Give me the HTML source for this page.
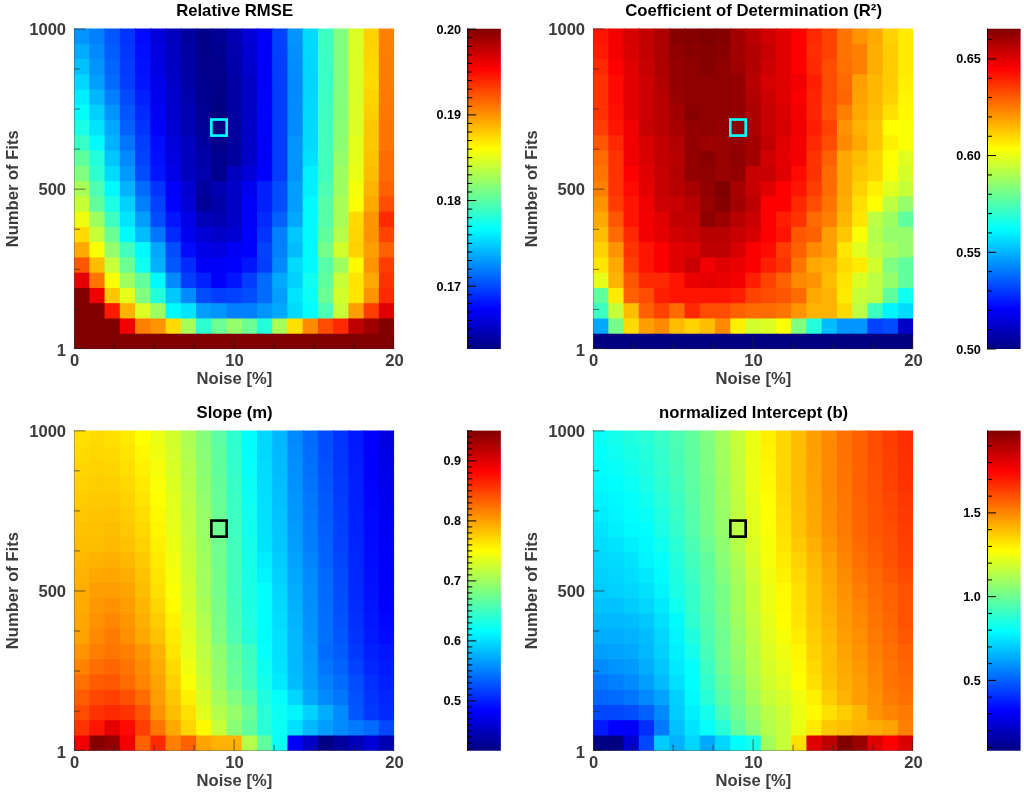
<!DOCTYPE html>
<html><head><meta charset="utf-8"><title>Figure</title>
<style>
html,body{margin:0;padding:0;background:#fff;}
body{width:1024px;height:792px;overflow:hidden;}
svg{display:block}
text{font-family:"Liberation Sans",Arial,sans-serif;font-weight:bold;}
.t{font-size:16.7px;fill:#000}
.a{font-size:16.6px;fill:#3c3c3c}
.c{font-size:12.65px;fill:#000}
</style></head><body>
<svg width="1024" height="792" viewBox="0 0 1024 792">
<defs><linearGradient id="jet" x1="0" y1="1" x2="0" y2="0">
<stop offset="0" stop-color="#000080"/><stop offset="0.125" stop-color="#0000ff"/><stop offset="0.375" stop-color="#00ffff"/><stop offset="0.625" stop-color="#ffff00"/><stop offset="0.875" stop-color="#ff0000"/><stop offset="1" stop-color="#800000"/>
</linearGradient></defs>
<rect width="1024" height="792" fill="#fff"/>

<clipPath id="c0"><rect x="74.10" y="28.50" width="320.00" height="320.50"/></clipPath>
<g clip-path="url(#c0)">
<rect x="72.10" y="26.50" width="18.44" height="18.46" fill="#0094ff"/>
<rect x="89.34" y="26.50" width="16.44" height="18.46" fill="#0080ff"/>
<rect x="104.58" y="26.50" width="16.44" height="18.46" fill="#0057ff"/>
<rect x="119.81" y="26.50" width="16.44" height="18.46" fill="#0033ff"/>
<rect x="135.05" y="26.50" width="16.44" height="18.46" fill="#000aff"/>
<rect x="150.29" y="26.50" width="16.44" height="18.46" fill="#0000db"/>
<rect x="165.53" y="26.50" width="16.44" height="18.46" fill="#0000bd"/>
<rect x="180.77" y="26.50" width="16.44" height="18.46" fill="#00009e"/>
<rect x="196.00" y="26.50" width="16.44" height="18.46" fill="#00008a"/>
<rect x="211.24" y="26.50" width="16.44" height="18.46" fill="#000094"/>
<rect x="226.48" y="26.50" width="16.44" height="18.46" fill="#0000b2"/>
<rect x="241.72" y="26.50" width="16.44" height="18.46" fill="#0000d6"/>
<rect x="256.96" y="26.50" width="16.44" height="18.46" fill="#0000fa"/>
<rect x="272.20" y="26.50" width="16.44" height="18.46" fill="#0042ff"/>
<rect x="287.43" y="26.50" width="16.44" height="18.46" fill="#0094ff"/>
<rect x="302.67" y="26.50" width="16.44" height="18.46" fill="#00dbff"/>
<rect x="317.91" y="26.50" width="16.44" height="18.46" fill="#3dffc2"/>
<rect x="333.15" y="26.50" width="16.44" height="18.46" fill="#80ff80"/>
<rect x="348.39" y="26.50" width="16.44" height="18.46" fill="#dbff24"/>
<rect x="363.62" y="26.50" width="16.44" height="18.46" fill="#ffd100"/>
<rect x="378.86" y="26.50" width="16.44" height="18.46" fill="#ff8000"/>
<rect x="72.10" y="43.76" width="18.44" height="16.46" fill="#00aaff"/>
<rect x="89.34" y="43.76" width="16.44" height="16.46" fill="#008aff"/>
<rect x="104.58" y="43.76" width="16.44" height="16.46" fill="#005eff"/>
<rect x="119.81" y="43.76" width="16.44" height="16.46" fill="#0036ff"/>
<rect x="135.05" y="43.76" width="16.44" height="16.46" fill="#000eff"/>
<rect x="150.29" y="43.76" width="16.44" height="16.46" fill="#0000e0"/>
<rect x="165.53" y="43.76" width="16.44" height="16.46" fill="#0000c0"/>
<rect x="180.77" y="43.76" width="16.44" height="16.46" fill="#0000a2"/>
<rect x="196.00" y="43.76" width="16.44" height="16.46" fill="#00008b"/>
<rect x="211.24" y="43.76" width="16.44" height="16.46" fill="#000090"/>
<rect x="226.48" y="43.76" width="16.44" height="16.46" fill="#0000ad"/>
<rect x="241.72" y="43.76" width="16.44" height="16.46" fill="#0000d1"/>
<rect x="256.96" y="43.76" width="16.44" height="16.46" fill="#0000fa"/>
<rect x="272.20" y="43.76" width="16.44" height="16.46" fill="#0041ff"/>
<rect x="287.43" y="43.76" width="16.44" height="16.46" fill="#0090ff"/>
<rect x="302.67" y="43.76" width="16.44" height="16.46" fill="#00daff"/>
<rect x="317.91" y="43.76" width="16.44" height="16.46" fill="#3cffc3"/>
<rect x="333.15" y="43.76" width="16.44" height="16.46" fill="#80ff80"/>
<rect x="348.39" y="43.76" width="16.44" height="16.46" fill="#dbff24"/>
<rect x="363.62" y="43.76" width="16.44" height="16.46" fill="#ffd400"/>
<rect x="378.86" y="43.76" width="16.44" height="16.46" fill="#ff7e00"/>
<rect x="72.10" y="59.02" width="18.44" height="16.46" fill="#00c0ff"/>
<rect x="89.34" y="59.02" width="16.44" height="16.46" fill="#0094ff"/>
<rect x="104.58" y="59.02" width="16.44" height="16.46" fill="#0064ff"/>
<rect x="119.81" y="59.02" width="16.44" height="16.46" fill="#003aff"/>
<rect x="135.05" y="59.02" width="16.44" height="16.46" fill="#0011ff"/>
<rect x="150.29" y="59.02" width="16.44" height="16.46" fill="#0000e5"/>
<rect x="165.53" y="59.02" width="16.44" height="16.46" fill="#0000c3"/>
<rect x="180.77" y="59.02" width="16.44" height="16.46" fill="#0000a5"/>
<rect x="196.00" y="59.02" width="16.44" height="16.46" fill="#00008d"/>
<rect x="211.24" y="59.02" width="16.44" height="16.46" fill="#00008d"/>
<rect x="226.48" y="59.02" width="16.44" height="16.46" fill="#0000a8"/>
<rect x="241.72" y="59.02" width="16.44" height="16.46" fill="#0000cc"/>
<rect x="256.96" y="59.02" width="16.44" height="16.46" fill="#0000fa"/>
<rect x="272.20" y="59.02" width="16.44" height="16.46" fill="#003fff"/>
<rect x="287.43" y="59.02" width="16.44" height="16.46" fill="#008dff"/>
<rect x="302.67" y="59.02" width="16.44" height="16.46" fill="#00d8ff"/>
<rect x="317.91" y="59.02" width="16.44" height="16.46" fill="#3affc5"/>
<rect x="333.15" y="59.02" width="16.44" height="16.46" fill="#80ff80"/>
<rect x="348.39" y="59.02" width="16.44" height="16.46" fill="#dbff24"/>
<rect x="363.62" y="59.02" width="16.44" height="16.46" fill="#ffd800"/>
<rect x="378.86" y="59.02" width="16.44" height="16.46" fill="#ff7c00"/>
<rect x="72.10" y="74.29" width="18.44" height="16.46" fill="#00d6ff"/>
<rect x="89.34" y="74.29" width="16.44" height="16.46" fill="#009eff"/>
<rect x="104.58" y="74.29" width="16.44" height="16.46" fill="#006bff"/>
<rect x="119.81" y="74.29" width="16.44" height="16.46" fill="#003dff"/>
<rect x="135.05" y="74.29" width="16.44" height="16.46" fill="#0014ff"/>
<rect x="150.29" y="74.29" width="16.44" height="16.46" fill="#0000eb"/>
<rect x="165.53" y="74.29" width="16.44" height="16.46" fill="#0000c7"/>
<rect x="180.77" y="74.29" width="16.44" height="16.46" fill="#0000a8"/>
<rect x="196.00" y="74.29" width="16.44" height="16.46" fill="#00008f"/>
<rect x="211.24" y="74.29" width="16.44" height="16.46" fill="#00008a"/>
<rect x="226.48" y="74.29" width="16.44" height="16.46" fill="#0000a3"/>
<rect x="241.72" y="74.29" width="16.44" height="16.46" fill="#0000c7"/>
<rect x="256.96" y="74.29" width="16.44" height="16.46" fill="#0000fa"/>
<rect x="272.20" y="74.29" width="16.44" height="16.46" fill="#003dff"/>
<rect x="287.43" y="74.29" width="16.44" height="16.46" fill="#008aff"/>
<rect x="302.67" y="74.29" width="16.44" height="16.46" fill="#00d6ff"/>
<rect x="317.91" y="74.29" width="16.44" height="16.46" fill="#38ffc7"/>
<rect x="333.15" y="74.29" width="16.44" height="16.46" fill="#80ff80"/>
<rect x="348.39" y="74.29" width="16.44" height="16.46" fill="#dbff24"/>
<rect x="363.62" y="74.29" width="16.44" height="16.46" fill="#ffdb00"/>
<rect x="378.86" y="74.29" width="16.44" height="16.46" fill="#ff7a00"/>
<rect x="72.10" y="89.55" width="18.44" height="16.46" fill="#00ecff"/>
<rect x="89.34" y="89.55" width="16.44" height="16.46" fill="#00b6ff"/>
<rect x="104.58" y="89.55" width="16.44" height="16.46" fill="#0080ff"/>
<rect x="119.81" y="89.55" width="16.44" height="16.46" fill="#0049ff"/>
<rect x="135.05" y="89.55" width="16.44" height="16.46" fill="#001fff"/>
<rect x="150.29" y="89.55" width="16.44" height="16.46" fill="#0000f0"/>
<rect x="165.53" y="89.55" width="16.44" height="16.46" fill="#0000ca"/>
<rect x="180.77" y="89.55" width="16.44" height="16.46" fill="#0000ac"/>
<rect x="196.00" y="89.55" width="16.44" height="16.46" fill="#000090"/>
<rect x="211.24" y="89.55" width="16.44" height="16.46" fill="#000086"/>
<rect x="226.48" y="89.55" width="16.44" height="16.46" fill="#0000a2"/>
<rect x="241.72" y="89.55" width="16.44" height="16.46" fill="#0000c7"/>
<rect x="256.96" y="89.55" width="16.44" height="16.46" fill="#0000fc"/>
<rect x="272.20" y="89.55" width="16.44" height="16.46" fill="#003dff"/>
<rect x="287.43" y="89.55" width="16.44" height="16.46" fill="#008aff"/>
<rect x="302.67" y="89.55" width="16.44" height="16.46" fill="#00d8ff"/>
<rect x="317.91" y="89.55" width="16.44" height="16.46" fill="#3cffc3"/>
<rect x="333.15" y="89.55" width="16.44" height="16.46" fill="#83ff7c"/>
<rect x="348.39" y="89.55" width="16.44" height="16.46" fill="#dbff24"/>
<rect x="363.62" y="89.55" width="16.44" height="16.46" fill="#ffd400"/>
<rect x="378.86" y="89.55" width="16.44" height="16.46" fill="#ff7900"/>
<rect x="72.10" y="104.81" width="18.44" height="16.46" fill="#03fffc"/>
<rect x="89.34" y="104.81" width="16.44" height="16.46" fill="#00ceff"/>
<rect x="104.58" y="104.81" width="16.44" height="16.46" fill="#0094ff"/>
<rect x="119.81" y="104.81" width="16.44" height="16.46" fill="#0055ff"/>
<rect x="135.05" y="104.81" width="16.44" height="16.46" fill="#0029ff"/>
<rect x="150.29" y="104.81" width="16.44" height="16.46" fill="#0000f5"/>
<rect x="165.53" y="104.81" width="16.44" height="16.46" fill="#0000ce"/>
<rect x="180.77" y="104.81" width="16.44" height="16.46" fill="#0000af"/>
<rect x="196.00" y="104.81" width="16.44" height="16.46" fill="#000092"/>
<rect x="211.24" y="104.81" width="16.44" height="16.46" fill="#000083"/>
<rect x="226.48" y="104.81" width="16.44" height="16.46" fill="#0000a0"/>
<rect x="241.72" y="104.81" width="16.44" height="16.46" fill="#0000c7"/>
<rect x="256.96" y="104.81" width="16.44" height="16.46" fill="#0000fd"/>
<rect x="272.20" y="104.81" width="16.44" height="16.46" fill="#003dff"/>
<rect x="287.43" y="104.81" width="16.44" height="16.46" fill="#008aff"/>
<rect x="302.67" y="104.81" width="16.44" height="16.46" fill="#00daff"/>
<rect x="317.91" y="104.81" width="16.44" height="16.46" fill="#3fffc0"/>
<rect x="333.15" y="104.81" width="16.44" height="16.46" fill="#86ff79"/>
<rect x="348.39" y="104.81" width="16.44" height="16.46" fill="#dbff24"/>
<rect x="363.62" y="104.81" width="16.44" height="16.46" fill="#ffce00"/>
<rect x="378.86" y="104.81" width="16.44" height="16.46" fill="#ff7700"/>
<rect x="72.10" y="120.07" width="18.44" height="16.46" fill="#1affe5"/>
<rect x="89.34" y="120.07" width="16.44" height="16.46" fill="#00e5ff"/>
<rect x="104.58" y="120.07" width="16.44" height="16.46" fill="#00a8ff"/>
<rect x="119.81" y="120.07" width="16.44" height="16.46" fill="#0061ff"/>
<rect x="135.05" y="120.07" width="16.44" height="16.46" fill="#0033ff"/>
<rect x="150.29" y="120.07" width="16.44" height="16.46" fill="#0000fa"/>
<rect x="165.53" y="120.07" width="16.44" height="16.46" fill="#0000d1"/>
<rect x="180.77" y="120.07" width="16.44" height="16.46" fill="#0000b2"/>
<rect x="196.00" y="120.07" width="16.44" height="16.46" fill="#000094"/>
<rect x="211.24" y="120.07" width="16.44" height="16.46" fill="#000080"/>
<rect x="226.48" y="120.07" width="16.44" height="16.46" fill="#00009e"/>
<rect x="241.72" y="120.07" width="16.44" height="16.46" fill="#0000c7"/>
<rect x="256.96" y="120.07" width="16.44" height="16.46" fill="#0000ff"/>
<rect x="272.20" y="120.07" width="16.44" height="16.46" fill="#003dff"/>
<rect x="287.43" y="120.07" width="16.44" height="16.46" fill="#008aff"/>
<rect x="302.67" y="120.07" width="16.44" height="16.46" fill="#00dbff"/>
<rect x="317.91" y="120.07" width="16.44" height="16.46" fill="#42ffbd"/>
<rect x="333.15" y="120.07" width="16.44" height="16.46" fill="#8aff75"/>
<rect x="348.39" y="120.07" width="16.44" height="16.46" fill="#dbff24"/>
<rect x="363.62" y="120.07" width="16.44" height="16.46" fill="#ffc700"/>
<rect x="378.86" y="120.07" width="16.44" height="16.46" fill="#ff7500"/>
<rect x="72.10" y="135.33" width="18.44" height="16.46" fill="#38ffc7"/>
<rect x="89.34" y="135.33" width="16.44" height="16.46" fill="#00faff"/>
<rect x="104.58" y="135.33" width="16.44" height="16.46" fill="#00b2ff"/>
<rect x="119.81" y="135.33" width="16.44" height="16.46" fill="#0075ff"/>
<rect x="135.05" y="135.33" width="16.44" height="16.46" fill="#003dff"/>
<rect x="150.29" y="135.33" width="16.44" height="16.46" fill="#000aff"/>
<rect x="165.53" y="135.33" width="16.44" height="16.46" fill="#0000db"/>
<rect x="180.77" y="135.33" width="16.44" height="16.46" fill="#0000bd"/>
<rect x="196.00" y="135.33" width="16.44" height="16.46" fill="#00009e"/>
<rect x="211.24" y="135.33" width="16.44" height="16.46" fill="#00008a"/>
<rect x="226.48" y="135.33" width="16.44" height="16.46" fill="#00009e"/>
<rect x="241.72" y="135.33" width="16.44" height="16.46" fill="#0000c7"/>
<rect x="256.96" y="135.33" width="16.44" height="16.46" fill="#0000fa"/>
<rect x="272.20" y="135.33" width="16.44" height="16.46" fill="#003dff"/>
<rect x="287.43" y="135.33" width="16.44" height="16.46" fill="#0094ff"/>
<rect x="302.67" y="135.33" width="16.44" height="16.46" fill="#00dbff"/>
<rect x="317.91" y="135.33" width="16.44" height="16.46" fill="#42ffbd"/>
<rect x="333.15" y="135.33" width="16.44" height="16.46" fill="#8aff75"/>
<rect x="348.39" y="135.33" width="16.44" height="16.46" fill="#e5ff1a"/>
<rect x="363.62" y="135.33" width="16.44" height="16.46" fill="#ffc700"/>
<rect x="378.86" y="135.33" width="16.44" height="16.46" fill="#ff7500"/>
<rect x="72.10" y="150.60" width="18.44" height="16.46" fill="#61ff9e"/>
<rect x="89.34" y="150.60" width="16.44" height="16.46" fill="#24ffdb"/>
<rect x="104.58" y="150.60" width="16.44" height="16.46" fill="#00c7ff"/>
<rect x="119.81" y="150.60" width="16.44" height="16.46" fill="#008aff"/>
<rect x="135.05" y="150.60" width="16.44" height="16.46" fill="#0042ff"/>
<rect x="150.29" y="150.60" width="16.44" height="16.46" fill="#000fff"/>
<rect x="165.53" y="150.60" width="16.44" height="16.46" fill="#0000e0"/>
<rect x="180.77" y="150.60" width="16.44" height="16.46" fill="#0000bd"/>
<rect x="196.00" y="150.60" width="16.44" height="16.46" fill="#0000a8"/>
<rect x="211.24" y="150.60" width="16.44" height="16.46" fill="#00008f"/>
<rect x="226.48" y="150.60" width="16.44" height="16.46" fill="#00009e"/>
<rect x="241.72" y="150.60" width="16.44" height="16.46" fill="#0000c7"/>
<rect x="256.96" y="150.60" width="16.44" height="16.46" fill="#0000fa"/>
<rect x="272.20" y="150.60" width="16.44" height="16.46" fill="#003dff"/>
<rect x="287.43" y="150.60" width="16.44" height="16.46" fill="#0094ff"/>
<rect x="302.67" y="150.60" width="16.44" height="16.46" fill="#00e0ff"/>
<rect x="317.91" y="150.60" width="16.44" height="16.46" fill="#42ffbd"/>
<rect x="333.15" y="150.60" width="16.44" height="16.46" fill="#94ff6b"/>
<rect x="348.39" y="150.60" width="16.44" height="16.46" fill="#e5ff1a"/>
<rect x="363.62" y="150.60" width="16.44" height="16.46" fill="#ffc200"/>
<rect x="378.86" y="150.60" width="16.44" height="16.46" fill="#ff6b00"/>
<rect x="72.10" y="165.86" width="18.44" height="16.46" fill="#80ff80"/>
<rect x="89.34" y="165.86" width="16.44" height="16.46" fill="#2effd1"/>
<rect x="104.58" y="165.86" width="16.44" height="16.46" fill="#00dbff"/>
<rect x="119.81" y="165.86" width="16.44" height="16.46" fill="#0099ff"/>
<rect x="135.05" y="165.86" width="16.44" height="16.46" fill="#004dff"/>
<rect x="150.29" y="165.86" width="16.44" height="16.46" fill="#0014ff"/>
<rect x="165.53" y="165.86" width="16.44" height="16.46" fill="#0000e6"/>
<rect x="180.77" y="165.86" width="16.44" height="16.46" fill="#0000bd"/>
<rect x="196.00" y="165.86" width="16.44" height="16.46" fill="#0000ad"/>
<rect x="211.24" y="165.86" width="16.44" height="16.46" fill="#00008f"/>
<rect x="226.48" y="165.86" width="16.44" height="16.46" fill="#0000bd"/>
<rect x="241.72" y="165.86" width="16.44" height="16.46" fill="#0000d6"/>
<rect x="256.96" y="165.86" width="16.44" height="16.46" fill="#0000ff"/>
<rect x="272.20" y="165.86" width="16.44" height="16.46" fill="#003dff"/>
<rect x="287.43" y="165.86" width="16.44" height="16.46" fill="#0094ff"/>
<rect x="302.67" y="165.86" width="16.44" height="16.46" fill="#00f0ff"/>
<rect x="317.91" y="165.86" width="16.44" height="16.46" fill="#42ffbd"/>
<rect x="333.15" y="165.86" width="16.44" height="16.46" fill="#9eff61"/>
<rect x="348.39" y="165.86" width="16.44" height="16.46" fill="#ebff14"/>
<rect x="363.62" y="165.86" width="16.44" height="16.46" fill="#ffbd00"/>
<rect x="378.86" y="165.86" width="16.44" height="16.46" fill="#ff6b00"/>
<rect x="72.10" y="181.12" width="18.44" height="16.46" fill="#a8ff57"/>
<rect x="89.34" y="181.12" width="16.44" height="16.46" fill="#4dffb2"/>
<rect x="104.58" y="181.12" width="16.44" height="16.46" fill="#00faff"/>
<rect x="119.81" y="181.12" width="16.44" height="16.46" fill="#00b2ff"/>
<rect x="135.05" y="181.12" width="16.44" height="16.46" fill="#006bff"/>
<rect x="150.29" y="181.12" width="16.44" height="16.46" fill="#0033ff"/>
<rect x="165.53" y="181.12" width="16.44" height="16.46" fill="#0000fa"/>
<rect x="180.77" y="181.12" width="16.44" height="16.46" fill="#0000d1"/>
<rect x="196.00" y="181.12" width="16.44" height="16.46" fill="#00009e"/>
<rect x="211.24" y="181.12" width="16.44" height="16.46" fill="#0000b2"/>
<rect x="226.48" y="181.12" width="16.44" height="16.46" fill="#0000c7"/>
<rect x="241.72" y="181.12" width="16.44" height="16.46" fill="#0000f0"/>
<rect x="256.96" y="181.12" width="16.44" height="16.46" fill="#001fff"/>
<rect x="272.20" y="181.12" width="16.44" height="16.46" fill="#004dff"/>
<rect x="287.43" y="181.12" width="16.44" height="16.46" fill="#009eff"/>
<rect x="302.67" y="181.12" width="16.44" height="16.46" fill="#00f0ff"/>
<rect x="317.91" y="181.12" width="16.44" height="16.46" fill="#4dffb2"/>
<rect x="333.15" y="181.12" width="16.44" height="16.46" fill="#9eff61"/>
<rect x="348.39" y="181.12" width="16.44" height="16.46" fill="#f5ff0a"/>
<rect x="363.62" y="181.12" width="16.44" height="16.46" fill="#ffb300"/>
<rect x="378.86" y="181.12" width="16.44" height="16.46" fill="#ff6100"/>
<rect x="72.10" y="196.38" width="18.44" height="16.46" fill="#c7ff38"/>
<rect x="89.34" y="196.38" width="16.44" height="16.46" fill="#61ff9e"/>
<rect x="104.58" y="196.38" width="16.44" height="16.46" fill="#1affe5"/>
<rect x="119.81" y="196.38" width="16.44" height="16.46" fill="#00d1ff"/>
<rect x="135.05" y="196.38" width="16.44" height="16.46" fill="#0080ff"/>
<rect x="150.29" y="196.38" width="16.44" height="16.46" fill="#0042ff"/>
<rect x="165.53" y="196.38" width="16.44" height="16.46" fill="#0000ff"/>
<rect x="180.77" y="196.38" width="16.44" height="16.46" fill="#0000d6"/>
<rect x="196.00" y="196.38" width="16.44" height="16.46" fill="#000099"/>
<rect x="211.24" y="196.38" width="16.44" height="16.46" fill="#0000a8"/>
<rect x="226.48" y="196.38" width="16.44" height="16.46" fill="#0000c7"/>
<rect x="241.72" y="196.38" width="16.44" height="16.46" fill="#0000fa"/>
<rect x="256.96" y="196.38" width="16.44" height="16.46" fill="#001fff"/>
<rect x="272.20" y="196.38" width="16.44" height="16.46" fill="#004dff"/>
<rect x="287.43" y="196.38" width="16.44" height="16.46" fill="#009eff"/>
<rect x="302.67" y="196.38" width="16.44" height="16.46" fill="#00faff"/>
<rect x="317.91" y="196.38" width="16.44" height="16.46" fill="#57ffa8"/>
<rect x="333.15" y="196.38" width="16.44" height="16.46" fill="#a8ff57"/>
<rect x="348.39" y="196.38" width="16.44" height="16.46" fill="#faff05"/>
<rect x="363.62" y="196.38" width="16.44" height="16.46" fill="#ffa800"/>
<rect x="378.86" y="196.38" width="16.44" height="16.46" fill="#ff4c00"/>
<rect x="72.10" y="211.64" width="18.44" height="16.46" fill="#f0ff0f"/>
<rect x="89.34" y="211.64" width="16.44" height="16.46" fill="#9eff61"/>
<rect x="104.58" y="211.64" width="16.44" height="16.46" fill="#3dffc2"/>
<rect x="119.81" y="211.64" width="16.44" height="16.46" fill="#00e5ff"/>
<rect x="135.05" y="211.64" width="16.44" height="16.46" fill="#009eff"/>
<rect x="150.29" y="211.64" width="16.44" height="16.46" fill="#004dff"/>
<rect x="165.53" y="211.64" width="16.44" height="16.46" fill="#0014ff"/>
<rect x="180.77" y="211.64" width="16.44" height="16.46" fill="#0000e6"/>
<rect x="196.00" y="211.64" width="16.44" height="16.46" fill="#0000b8"/>
<rect x="211.24" y="211.64" width="16.44" height="16.46" fill="#0000b2"/>
<rect x="226.48" y="211.64" width="16.44" height="16.46" fill="#0000c7"/>
<rect x="241.72" y="211.64" width="16.44" height="16.46" fill="#0000fa"/>
<rect x="256.96" y="211.64" width="16.44" height="16.46" fill="#0029ff"/>
<rect x="272.20" y="211.64" width="16.44" height="16.46" fill="#0061ff"/>
<rect x="287.43" y="211.64" width="16.44" height="16.46" fill="#00a8ff"/>
<rect x="302.67" y="211.64" width="16.44" height="16.46" fill="#00faff"/>
<rect x="317.91" y="211.64" width="16.44" height="16.46" fill="#57ffa8"/>
<rect x="333.15" y="211.64" width="16.44" height="16.46" fill="#a8ff57"/>
<rect x="348.39" y="211.64" width="16.44" height="16.46" fill="#ffdb00"/>
<rect x="363.62" y="211.64" width="16.44" height="16.46" fill="#ff9400"/>
<rect x="378.86" y="211.64" width="16.44" height="16.46" fill="#ff2900"/>
<rect x="72.10" y="226.90" width="18.44" height="16.46" fill="#ffdb00"/>
<rect x="89.34" y="226.90" width="16.44" height="16.46" fill="#c7ff38"/>
<rect x="104.58" y="226.90" width="16.44" height="16.46" fill="#6bff94"/>
<rect x="119.81" y="226.90" width="16.44" height="16.46" fill="#00faff"/>
<rect x="135.05" y="226.90" width="16.44" height="16.46" fill="#00bdff"/>
<rect x="150.29" y="226.90" width="16.44" height="16.46" fill="#0075ff"/>
<rect x="165.53" y="226.90" width="16.44" height="16.46" fill="#0029ff"/>
<rect x="180.77" y="226.90" width="16.44" height="16.46" fill="#0000f0"/>
<rect x="196.00" y="226.90" width="16.44" height="16.46" fill="#0000d6"/>
<rect x="211.24" y="226.90" width="16.44" height="16.46" fill="#0000c7"/>
<rect x="226.48" y="226.90" width="16.44" height="16.46" fill="#0000d1"/>
<rect x="241.72" y="226.90" width="16.44" height="16.46" fill="#0000ff"/>
<rect x="256.96" y="226.90" width="16.44" height="16.46" fill="#0033ff"/>
<rect x="272.20" y="226.90" width="16.44" height="16.46" fill="#0080ff"/>
<rect x="287.43" y="226.90" width="16.44" height="16.46" fill="#00c7ff"/>
<rect x="302.67" y="226.90" width="16.44" height="16.46" fill="#00faff"/>
<rect x="317.91" y="226.90" width="16.44" height="16.46" fill="#61ff9e"/>
<rect x="333.15" y="226.90" width="16.44" height="16.46" fill="#b3ff4c"/>
<rect x="348.39" y="226.90" width="16.44" height="16.46" fill="#ffd600"/>
<rect x="363.62" y="226.90" width="16.44" height="16.46" fill="#ff9400"/>
<rect x="378.86" y="226.90" width="16.44" height="16.46" fill="#ff4200"/>
<rect x="72.10" y="242.17" width="18.44" height="16.46" fill="#ffa800"/>
<rect x="89.34" y="242.17" width="16.44" height="16.46" fill="#faff05"/>
<rect x="104.58" y="242.17" width="16.44" height="16.46" fill="#94ff6b"/>
<rect x="119.81" y="242.17" width="16.44" height="16.46" fill="#42ffbd"/>
<rect x="135.05" y="242.17" width="16.44" height="16.46" fill="#00faff"/>
<rect x="150.29" y="242.17" width="16.44" height="16.46" fill="#00a8ff"/>
<rect x="165.53" y="242.17" width="16.44" height="16.46" fill="#004dff"/>
<rect x="180.77" y="242.17" width="16.44" height="16.46" fill="#000aff"/>
<rect x="196.00" y="242.17" width="16.44" height="16.46" fill="#0000e6"/>
<rect x="211.24" y="242.17" width="16.44" height="16.46" fill="#0000e0"/>
<rect x="226.48" y="242.17" width="16.44" height="16.46" fill="#0000f5"/>
<rect x="241.72" y="242.17" width="16.44" height="16.46" fill="#0000ff"/>
<rect x="256.96" y="242.17" width="16.44" height="16.46" fill="#0042ff"/>
<rect x="272.20" y="242.17" width="16.44" height="16.46" fill="#0080ff"/>
<rect x="287.43" y="242.17" width="16.44" height="16.46" fill="#00bdff"/>
<rect x="302.67" y="242.17" width="16.44" height="16.46" fill="#00faff"/>
<rect x="317.91" y="242.17" width="16.44" height="16.46" fill="#75ff8a"/>
<rect x="333.15" y="242.17" width="16.44" height="16.46" fill="#d1ff2e"/>
<rect x="348.39" y="242.17" width="16.44" height="16.46" fill="#ffd100"/>
<rect x="363.62" y="242.17" width="16.44" height="16.46" fill="#ff9e00"/>
<rect x="378.86" y="242.17" width="16.44" height="16.46" fill="#ff6100"/>
<rect x="72.10" y="257.43" width="18.44" height="16.46" fill="#ff5700"/>
<rect x="89.34" y="257.43" width="16.44" height="16.46" fill="#ffbd00"/>
<rect x="104.58" y="257.43" width="16.44" height="16.46" fill="#c7ff38"/>
<rect x="119.81" y="257.43" width="16.44" height="16.46" fill="#6bff94"/>
<rect x="135.05" y="257.43" width="16.44" height="16.46" fill="#0ffff0"/>
<rect x="150.29" y="257.43" width="16.44" height="16.46" fill="#00b2ff"/>
<rect x="165.53" y="257.43" width="16.44" height="16.46" fill="#0057ff"/>
<rect x="180.77" y="257.43" width="16.44" height="16.46" fill="#0029ff"/>
<rect x="196.00" y="257.43" width="16.44" height="16.46" fill="#0000fa"/>
<rect x="211.24" y="257.43" width="16.44" height="16.46" fill="#0000fa"/>
<rect x="226.48" y="257.43" width="16.44" height="16.46" fill="#0000ff"/>
<rect x="241.72" y="257.43" width="16.44" height="16.46" fill="#0014ff"/>
<rect x="256.96" y="257.43" width="16.44" height="16.46" fill="#003dff"/>
<rect x="272.20" y="257.43" width="16.44" height="16.46" fill="#008aff"/>
<rect x="287.43" y="257.43" width="16.44" height="16.46" fill="#00dbff"/>
<rect x="302.67" y="257.43" width="16.44" height="16.46" fill="#00faff"/>
<rect x="317.91" y="257.43" width="16.44" height="16.46" fill="#57ffa8"/>
<rect x="333.15" y="257.43" width="16.44" height="16.46" fill="#9eff61"/>
<rect x="348.39" y="257.43" width="16.44" height="16.46" fill="#fffa00"/>
<rect x="363.62" y="257.43" width="16.44" height="16.46" fill="#ff9400"/>
<rect x="378.86" y="257.43" width="16.44" height="16.46" fill="#ff3d00"/>
<rect x="72.10" y="272.69" width="18.44" height="16.46" fill="#e50000"/>
<rect x="89.34" y="272.69" width="16.44" height="16.46" fill="#ff7500"/>
<rect x="104.58" y="272.69" width="16.44" height="16.46" fill="#faff05"/>
<rect x="119.81" y="272.69" width="16.44" height="16.46" fill="#9eff61"/>
<rect x="135.05" y="272.69" width="16.44" height="16.46" fill="#61ff9e"/>
<rect x="150.29" y="272.69" width="16.44" height="16.46" fill="#00faff"/>
<rect x="165.53" y="272.69" width="16.44" height="16.46" fill="#008aff"/>
<rect x="180.77" y="272.69" width="16.44" height="16.46" fill="#003dff"/>
<rect x="196.00" y="272.69" width="16.44" height="16.46" fill="#001fff"/>
<rect x="211.24" y="272.69" width="16.44" height="16.46" fill="#0000fa"/>
<rect x="226.48" y="272.69" width="16.44" height="16.46" fill="#0014ff"/>
<rect x="241.72" y="272.69" width="16.44" height="16.46" fill="#003dff"/>
<rect x="256.96" y="272.69" width="16.44" height="16.46" fill="#006bff"/>
<rect x="272.20" y="272.69" width="16.44" height="16.46" fill="#00a8ff"/>
<rect x="287.43" y="272.69" width="16.44" height="16.46" fill="#00d1ff"/>
<rect x="302.67" y="272.69" width="16.44" height="16.46" fill="#0ffff0"/>
<rect x="317.91" y="272.69" width="16.44" height="16.46" fill="#61ff9e"/>
<rect x="333.15" y="272.69" width="16.44" height="16.46" fill="#c7ff38"/>
<rect x="348.39" y="272.69" width="16.44" height="16.46" fill="#ffe500"/>
<rect x="363.62" y="272.69" width="16.44" height="16.46" fill="#ffa800"/>
<rect x="378.86" y="272.69" width="16.44" height="16.46" fill="#ff3300"/>
<rect x="72.10" y="287.95" width="18.44" height="16.46" fill="#800000"/>
<rect x="89.34" y="287.95" width="16.44" height="16.46" fill="#f00000"/>
<rect x="104.58" y="287.95" width="16.44" height="16.46" fill="#ffc700"/>
<rect x="119.81" y="287.95" width="16.44" height="16.46" fill="#e5ff1a"/>
<rect x="135.05" y="287.95" width="16.44" height="16.46" fill="#80ff80"/>
<rect x="150.29" y="287.95" width="16.44" height="16.46" fill="#24ffdb"/>
<rect x="165.53" y="287.95" width="16.44" height="16.46" fill="#00c7ff"/>
<rect x="180.77" y="287.95" width="16.44" height="16.46" fill="#008aff"/>
<rect x="196.00" y="287.95" width="16.44" height="16.46" fill="#004dff"/>
<rect x="211.24" y="287.95" width="16.44" height="16.46" fill="#003dff"/>
<rect x="226.48" y="287.95" width="16.44" height="16.46" fill="#0042ff"/>
<rect x="241.72" y="287.95" width="16.44" height="16.46" fill="#004dff"/>
<rect x="256.96" y="287.95" width="16.44" height="16.46" fill="#006bff"/>
<rect x="272.20" y="287.95" width="16.44" height="16.46" fill="#009eff"/>
<rect x="287.43" y="287.95" width="16.44" height="16.46" fill="#00e5ff"/>
<rect x="302.67" y="287.95" width="16.44" height="16.46" fill="#0afff5"/>
<rect x="317.91" y="287.95" width="16.44" height="16.46" fill="#6bff94"/>
<rect x="333.15" y="287.95" width="16.44" height="16.46" fill="#d1ff2e"/>
<rect x="348.39" y="287.95" width="16.44" height="16.46" fill="#ffe500"/>
<rect x="363.62" y="287.95" width="16.44" height="16.46" fill="#ff9400"/>
<rect x="378.86" y="287.95" width="16.44" height="16.46" fill="#ff2900"/>
<rect x="72.10" y="303.21" width="18.44" height="16.46" fill="#800000"/>
<rect x="89.34" y="303.21" width="16.44" height="16.46" fill="#800000"/>
<rect x="104.58" y="303.21" width="16.44" height="16.46" fill="#ff1a00"/>
<rect x="119.81" y="303.21" width="16.44" height="16.46" fill="#ffb300"/>
<rect x="135.05" y="303.21" width="16.44" height="16.46" fill="#dbff24"/>
<rect x="150.29" y="303.21" width="16.44" height="16.46" fill="#9eff61"/>
<rect x="165.53" y="303.21" width="16.44" height="16.46" fill="#00faff"/>
<rect x="180.77" y="303.21" width="16.44" height="16.46" fill="#00e5ff"/>
<rect x="196.00" y="303.21" width="16.44" height="16.46" fill="#009eff"/>
<rect x="211.24" y="303.21" width="16.44" height="16.46" fill="#0094ff"/>
<rect x="226.48" y="303.21" width="16.44" height="16.46" fill="#0080ff"/>
<rect x="241.72" y="303.21" width="16.44" height="16.46" fill="#0080ff"/>
<rect x="256.96" y="303.21" width="16.44" height="16.46" fill="#0094ff"/>
<rect x="272.20" y="303.21" width="16.44" height="16.46" fill="#00a8ff"/>
<rect x="287.43" y="303.21" width="16.44" height="16.46" fill="#00dbff"/>
<rect x="302.67" y="303.21" width="16.44" height="16.46" fill="#00ffff"/>
<rect x="317.91" y="303.21" width="16.44" height="16.46" fill="#4dffb2"/>
<rect x="333.15" y="303.21" width="16.44" height="16.46" fill="#c7ff38"/>
<rect x="348.39" y="303.21" width="16.44" height="16.46" fill="#ff9e00"/>
<rect x="363.62" y="303.21" width="16.44" height="16.46" fill="#ff3d00"/>
<rect x="378.86" y="303.21" width="16.44" height="16.46" fill="#e00000"/>
<rect x="72.10" y="318.48" width="18.44" height="16.46" fill="#800000"/>
<rect x="89.34" y="318.48" width="16.44" height="16.46" fill="#800000"/>
<rect x="104.58" y="318.48" width="16.44" height="16.46" fill="#800000"/>
<rect x="119.81" y="318.48" width="16.44" height="16.46" fill="#f00000"/>
<rect x="135.05" y="318.48" width="16.44" height="16.46" fill="#ff8000"/>
<rect x="150.29" y="318.48" width="16.44" height="16.46" fill="#ff9400"/>
<rect x="165.53" y="318.48" width="16.44" height="16.46" fill="#ffdb00"/>
<rect x="180.77" y="318.48" width="16.44" height="16.46" fill="#a8ff57"/>
<rect x="196.00" y="318.48" width="16.44" height="16.46" fill="#2effd1"/>
<rect x="211.24" y="318.48" width="16.44" height="16.46" fill="#6bff94"/>
<rect x="226.48" y="318.48" width="16.44" height="16.46" fill="#94ff6b"/>
<rect x="241.72" y="318.48" width="16.44" height="16.46" fill="#6bff94"/>
<rect x="256.96" y="318.48" width="16.44" height="16.46" fill="#24ffdb"/>
<rect x="272.20" y="318.48" width="16.44" height="16.46" fill="#a8ff57"/>
<rect x="287.43" y="318.48" width="16.44" height="16.46" fill="#ffe000"/>
<rect x="302.67" y="318.48" width="16.44" height="16.46" fill="#ff8a00"/>
<rect x="317.91" y="318.48" width="16.44" height="16.46" fill="#ff4c00"/>
<rect x="333.15" y="318.48" width="16.44" height="16.46" fill="#ff2900"/>
<rect x="348.39" y="318.48" width="16.44" height="16.46" fill="#bd0000"/>
<rect x="363.62" y="318.48" width="16.44" height="16.46" fill="#9e0000"/>
<rect x="378.86" y="318.48" width="16.44" height="16.46" fill="#800000"/>
<rect x="72.10" y="333.74" width="18.44" height="16.46" fill="#800000"/>
<rect x="89.34" y="333.74" width="16.44" height="16.46" fill="#800000"/>
<rect x="104.58" y="333.74" width="16.44" height="16.46" fill="#800000"/>
<rect x="119.81" y="333.74" width="16.44" height="16.46" fill="#800000"/>
<rect x="135.05" y="333.74" width="16.44" height="16.46" fill="#800000"/>
<rect x="150.29" y="333.74" width="16.44" height="16.46" fill="#800000"/>
<rect x="165.53" y="333.74" width="16.44" height="16.46" fill="#800000"/>
<rect x="180.77" y="333.74" width="16.44" height="16.46" fill="#800000"/>
<rect x="196.00" y="333.74" width="16.44" height="16.46" fill="#800000"/>
<rect x="211.24" y="333.74" width="16.44" height="16.46" fill="#800000"/>
<rect x="226.48" y="333.74" width="16.44" height="16.46" fill="#800000"/>
<rect x="241.72" y="333.74" width="16.44" height="16.46" fill="#800000"/>
<rect x="256.96" y="333.74" width="16.44" height="16.46" fill="#800000"/>
<rect x="272.20" y="333.74" width="16.44" height="16.46" fill="#800000"/>
<rect x="287.43" y="333.74" width="16.44" height="16.46" fill="#800000"/>
<rect x="302.67" y="333.74" width="16.44" height="16.46" fill="#800000"/>
<rect x="317.91" y="333.74" width="16.44" height="16.46" fill="#800000"/>
<rect x="333.15" y="333.74" width="16.44" height="16.46" fill="#800000"/>
<rect x="348.39" y="333.74" width="16.44" height="16.46" fill="#800000"/>
<rect x="363.62" y="333.74" width="16.44" height="16.46" fill="#800000"/>
<rect x="378.86" y="333.74" width="16.44" height="16.46" fill="#800000"/>
</g>
<path d="M74.60 349.00v-11.5M114.10 349.00v-6.0M154.10 349.00v-6.0M194.10 349.00v-6.0M234.10 349.00v-11.5M274.10 349.00v-6.0M314.10 349.00v-6.0M354.10 349.00v-6.0M393.60 349.00v-11.5M74.10 29.00h11.5M74.10 68.96h6.0M74.10 109.03h6.0M74.10 149.09h6.0M74.10 189.15h11.5M74.10 229.21h6.0M74.10 269.27h6.0M74.10 309.34h6.0M74.10 348.50h11.5" stroke="#262626" stroke-width="1" fill="none" opacity="0.65"/>
<rect x="211.34" y="119.52" width="15.35" height="16.05" fill="none" stroke="#00ffff" stroke-width="2.65"/>
<path d="M74.40 28.50V348.70H394.10" stroke="#262626" stroke-width="0.8" fill="none" opacity="0.45"/>
<text class="t" x="234.6" y="16.1" text-anchor="middle">Relative RMSE</text>
<text class="a" x="66.1" y="35.2" text-anchor="end">1000</text>
<text class="a" x="66.1" y="195.4" text-anchor="end">500</text>
<text class="a" x="66.1" y="355.7" text-anchor="end">1</text>
<text class="a" x="74.6" y="366.0" text-anchor="middle">0</text>
<text class="a" x="234.6" y="366.0" text-anchor="middle">10</text>
<text class="a" x="394.6" y="366.0" text-anchor="middle">20</text>
<text class="a" x="234.4" y="383.9" text-anchor="middle">Noise [%]</text>
<text class="a" transform="translate(18.1 188.8) rotate(-90)" text-anchor="middle">Number of Fits</text>
<rect x="467.25" y="28.75" width="33.60" height="320.25" fill="url(#jet)"/>
<path d="M467.75 28.50v320.50M467.25 29.15h9.0M467.25 37.72h5.0M467.25 46.29h5.0M467.25 54.86h5.0M467.25 63.43h5.0M467.25 72.00h5.0M467.25 80.57h5.0M467.25 89.14h5.0M467.25 97.71h5.0M467.25 106.28h5.0M467.25 114.85h9.0M467.25 123.42h5.0M467.25 131.99h5.0M467.25 140.56h5.0M467.25 149.13h5.0M467.25 157.70h5.0M467.25 166.27h5.0M467.25 174.84h5.0M467.25 183.41h5.0M467.25 191.98h5.0M467.25 200.55h9.0M467.25 209.12h5.0M467.25 217.69h5.0M467.25 226.26h5.0M467.25 234.83h5.0M467.25 243.40h5.0M467.25 251.97h5.0M467.25 260.54h5.0M467.25 269.11h5.0M467.25 277.68h5.0M467.25 286.25h9.0M467.25 294.82h5.0M467.25 303.39h5.0M467.25 311.96h5.0M467.25 320.53h5.0M467.25 329.10h5.0M467.25 337.67h5.0M467.25 346.24h5.0" stroke="#000" stroke-width="1" fill="none"/>
<text class="c" x="461.1" y="33.6" text-anchor="end">0.20</text>
<text class="c" x="461.1" y="119.4" text-anchor="end">0.19</text>
<text class="c" x="461.1" y="205.1" text-anchor="end">0.18</text>
<text class="c" x="461.1" y="290.8" text-anchor="end">0.17</text>
<clipPath id="c1"><rect x="593.10" y="28.50" width="320.00" height="320.50"/></clipPath>
<g clip-path="url(#c1)">
<rect x="591.10" y="26.50" width="18.44" height="18.46" fill="#ff1400"/>
<rect x="608.34" y="26.50" width="16.44" height="18.46" fill="#f50000"/>
<rect x="623.58" y="26.50" width="16.44" height="18.46" fill="#d60000"/>
<rect x="638.81" y="26.50" width="16.44" height="18.46" fill="#c20000"/>
<rect x="654.05" y="26.50" width="16.44" height="18.46" fill="#ad0000"/>
<rect x="669.29" y="26.50" width="16.44" height="18.46" fill="#8a0000"/>
<rect x="684.53" y="26.50" width="16.44" height="18.46" fill="#850000"/>
<rect x="699.77" y="26.50" width="16.44" height="18.46" fill="#800000"/>
<rect x="715.00" y="26.50" width="16.44" height="18.46" fill="#850000"/>
<rect x="730.24" y="26.50" width="16.44" height="18.46" fill="#a30000"/>
<rect x="745.48" y="26.50" width="16.44" height="18.46" fill="#b80000"/>
<rect x="760.72" y="26.50" width="16.44" height="18.46" fill="#d10000"/>
<rect x="775.96" y="26.50" width="16.44" height="18.46" fill="#e00000"/>
<rect x="791.20" y="26.50" width="16.44" height="18.46" fill="#ff0000"/>
<rect x="806.43" y="26.50" width="16.44" height="18.46" fill="#ff2900"/>
<rect x="821.67" y="26.50" width="16.44" height="18.46" fill="#ff4200"/>
<rect x="836.91" y="26.50" width="16.44" height="18.46" fill="#ff7500"/>
<rect x="852.15" y="26.50" width="16.44" height="18.46" fill="#ff9400"/>
<rect x="867.39" y="26.50" width="16.44" height="18.46" fill="#ffa800"/>
<rect x="882.62" y="26.50" width="16.44" height="18.46" fill="#ffd100"/>
<rect x="897.86" y="26.50" width="16.44" height="18.46" fill="#ffeb00"/>
<rect x="591.10" y="43.76" width="18.44" height="16.46" fill="#ff1a00"/>
<rect x="608.34" y="43.76" width="16.44" height="16.46" fill="#f50000"/>
<rect x="623.58" y="43.76" width="16.44" height="16.46" fill="#db0000"/>
<rect x="638.81" y="43.76" width="16.44" height="16.46" fill="#c20000"/>
<rect x="654.05" y="43.76" width="16.44" height="16.46" fill="#ad0000"/>
<rect x="669.29" y="43.76" width="16.44" height="16.46" fill="#8f0000"/>
<rect x="684.53" y="43.76" width="16.44" height="16.46" fill="#8a0000"/>
<rect x="699.77" y="43.76" width="16.44" height="16.46" fill="#850000"/>
<rect x="715.00" y="43.76" width="16.44" height="16.46" fill="#8a0000"/>
<rect x="730.24" y="43.76" width="16.44" height="16.46" fill="#a30000"/>
<rect x="745.48" y="43.76" width="16.44" height="16.46" fill="#b30000"/>
<rect x="760.72" y="43.76" width="16.44" height="16.46" fill="#c70000"/>
<rect x="775.96" y="43.76" width="16.44" height="16.46" fill="#e00000"/>
<rect x="791.20" y="43.76" width="16.44" height="16.46" fill="#ff0000"/>
<rect x="806.43" y="43.76" width="16.44" height="16.46" fill="#ff2e00"/>
<rect x="821.67" y="43.76" width="16.44" height="16.46" fill="#ff4200"/>
<rect x="836.91" y="43.76" width="16.44" height="16.46" fill="#ff7500"/>
<rect x="852.15" y="43.76" width="16.44" height="16.46" fill="#ff8000"/>
<rect x="867.39" y="43.76" width="16.44" height="16.46" fill="#ffad00"/>
<rect x="882.62" y="43.76" width="16.44" height="16.46" fill="#ffcc00"/>
<rect x="897.86" y="43.76" width="16.44" height="16.46" fill="#ffeb00"/>
<rect x="591.10" y="59.02" width="18.44" height="16.46" fill="#ff2900"/>
<rect x="608.34" y="59.02" width="16.44" height="16.46" fill="#ff0000"/>
<rect x="623.58" y="59.02" width="16.44" height="16.46" fill="#e00000"/>
<rect x="638.81" y="59.02" width="16.44" height="16.46" fill="#c70000"/>
<rect x="654.05" y="59.02" width="16.44" height="16.46" fill="#ad0000"/>
<rect x="669.29" y="59.02" width="16.44" height="16.46" fill="#940000"/>
<rect x="684.53" y="59.02" width="16.44" height="16.46" fill="#8f0000"/>
<rect x="699.77" y="59.02" width="16.44" height="16.46" fill="#850000"/>
<rect x="715.00" y="59.02" width="16.44" height="16.46" fill="#8f0000"/>
<rect x="730.24" y="59.02" width="16.44" height="16.46" fill="#9e0000"/>
<rect x="745.48" y="59.02" width="16.44" height="16.46" fill="#b30000"/>
<rect x="760.72" y="59.02" width="16.44" height="16.46" fill="#cc0000"/>
<rect x="775.96" y="59.02" width="16.44" height="16.46" fill="#e00000"/>
<rect x="791.20" y="59.02" width="16.44" height="16.46" fill="#ff0000"/>
<rect x="806.43" y="59.02" width="16.44" height="16.46" fill="#ff2900"/>
<rect x="821.67" y="59.02" width="16.44" height="16.46" fill="#ff4c00"/>
<rect x="836.91" y="59.02" width="16.44" height="16.46" fill="#ff7000"/>
<rect x="852.15" y="59.02" width="16.44" height="16.46" fill="#ff8000"/>
<rect x="867.39" y="59.02" width="16.44" height="16.46" fill="#ffad00"/>
<rect x="882.62" y="59.02" width="16.44" height="16.46" fill="#ffcc00"/>
<rect x="897.86" y="59.02" width="16.44" height="16.46" fill="#ffeb00"/>
<rect x="591.10" y="74.29" width="18.44" height="16.46" fill="#ff3300"/>
<rect x="608.34" y="74.29" width="16.44" height="16.46" fill="#ff0a00"/>
<rect x="623.58" y="74.29" width="16.44" height="16.46" fill="#e50000"/>
<rect x="638.81" y="74.29" width="16.44" height="16.46" fill="#cc0000"/>
<rect x="654.05" y="74.29" width="16.44" height="16.46" fill="#b30000"/>
<rect x="669.29" y="74.29" width="16.44" height="16.46" fill="#940000"/>
<rect x="684.53" y="74.29" width="16.44" height="16.46" fill="#8f0000"/>
<rect x="699.77" y="74.29" width="16.44" height="16.46" fill="#8f0000"/>
<rect x="715.00" y="74.29" width="16.44" height="16.46" fill="#8f0000"/>
<rect x="730.24" y="74.29" width="16.44" height="16.46" fill="#940000"/>
<rect x="745.48" y="74.29" width="16.44" height="16.46" fill="#b80000"/>
<rect x="760.72" y="74.29" width="16.44" height="16.46" fill="#d60000"/>
<rect x="775.96" y="74.29" width="16.44" height="16.46" fill="#e00000"/>
<rect x="791.20" y="74.29" width="16.44" height="16.46" fill="#f00000"/>
<rect x="806.43" y="74.29" width="16.44" height="16.46" fill="#ff1f00"/>
<rect x="821.67" y="74.29" width="16.44" height="16.46" fill="#ff4c00"/>
<rect x="836.91" y="74.29" width="16.44" height="16.46" fill="#ff6b00"/>
<rect x="852.15" y="74.29" width="16.44" height="16.46" fill="#ff9e00"/>
<rect x="867.39" y="74.29" width="16.44" height="16.46" fill="#ffb800"/>
<rect x="882.62" y="74.29" width="16.44" height="16.46" fill="#ffcc00"/>
<rect x="897.86" y="74.29" width="16.44" height="16.46" fill="#fff000"/>
<rect x="591.10" y="89.55" width="18.44" height="16.46" fill="#ff3300"/>
<rect x="608.34" y="89.55" width="16.44" height="16.46" fill="#ff0a00"/>
<rect x="623.58" y="89.55" width="16.44" height="16.46" fill="#e50000"/>
<rect x="638.81" y="89.55" width="16.44" height="16.46" fill="#cc0000"/>
<rect x="654.05" y="89.55" width="16.44" height="16.46" fill="#b80000"/>
<rect x="669.29" y="89.55" width="16.44" height="16.46" fill="#990000"/>
<rect x="684.53" y="89.55" width="16.44" height="16.46" fill="#8f0000"/>
<rect x="699.77" y="89.55" width="16.44" height="16.46" fill="#8f0000"/>
<rect x="715.00" y="89.55" width="16.44" height="16.46" fill="#8f0000"/>
<rect x="730.24" y="89.55" width="16.44" height="16.46" fill="#940000"/>
<rect x="745.48" y="89.55" width="16.44" height="16.46" fill="#b30000"/>
<rect x="760.72" y="89.55" width="16.44" height="16.46" fill="#cc0000"/>
<rect x="775.96" y="89.55" width="16.44" height="16.46" fill="#e00000"/>
<rect x="791.20" y="89.55" width="16.44" height="16.46" fill="#fa0000"/>
<rect x="806.43" y="89.55" width="16.44" height="16.46" fill="#ff2400"/>
<rect x="821.67" y="89.55" width="16.44" height="16.46" fill="#ff4c00"/>
<rect x="836.91" y="89.55" width="16.44" height="16.46" fill="#ff6600"/>
<rect x="852.15" y="89.55" width="16.44" height="16.46" fill="#ffa300"/>
<rect x="867.39" y="89.55" width="16.44" height="16.46" fill="#ffb800"/>
<rect x="882.62" y="89.55" width="16.44" height="16.46" fill="#ffd100"/>
<rect x="897.86" y="89.55" width="16.44" height="16.46" fill="#fff500"/>
<rect x="591.10" y="104.81" width="18.44" height="16.46" fill="#ff3300"/>
<rect x="608.34" y="104.81" width="16.44" height="16.46" fill="#ff0f00"/>
<rect x="623.58" y="104.81" width="16.44" height="16.46" fill="#e50000"/>
<rect x="638.81" y="104.81" width="16.44" height="16.46" fill="#cc0000"/>
<rect x="654.05" y="104.81" width="16.44" height="16.46" fill="#b80000"/>
<rect x="669.29" y="104.81" width="16.44" height="16.46" fill="#a30000"/>
<rect x="684.53" y="104.81" width="16.44" height="16.46" fill="#8a0000"/>
<rect x="699.77" y="104.81" width="16.44" height="16.46" fill="#8f0000"/>
<rect x="715.00" y="104.81" width="16.44" height="16.46" fill="#8f0000"/>
<rect x="730.24" y="104.81" width="16.44" height="16.46" fill="#940000"/>
<rect x="745.48" y="104.81" width="16.44" height="16.46" fill="#ad0000"/>
<rect x="760.72" y="104.81" width="16.44" height="16.46" fill="#c70000"/>
<rect x="775.96" y="104.81" width="16.44" height="16.46" fill="#db0000"/>
<rect x="791.20" y="104.81" width="16.44" height="16.46" fill="#f50000"/>
<rect x="806.43" y="104.81" width="16.44" height="16.46" fill="#ff2400"/>
<rect x="821.67" y="104.81" width="16.44" height="16.46" fill="#ff5200"/>
<rect x="836.91" y="104.81" width="16.44" height="16.46" fill="#ff8000"/>
<rect x="852.15" y="104.81" width="16.44" height="16.46" fill="#ffa800"/>
<rect x="867.39" y="104.81" width="16.44" height="16.46" fill="#ffbd00"/>
<rect x="882.62" y="104.81" width="16.44" height="16.46" fill="#ffe000"/>
<rect x="897.86" y="104.81" width="16.44" height="16.46" fill="#fffa00"/>
<rect x="591.10" y="120.07" width="18.44" height="16.46" fill="#ff3d00"/>
<rect x="608.34" y="120.07" width="16.44" height="16.46" fill="#ff1400"/>
<rect x="623.58" y="120.07" width="16.44" height="16.46" fill="#f00000"/>
<rect x="638.81" y="120.07" width="16.44" height="16.46" fill="#c70000"/>
<rect x="654.05" y="120.07" width="16.44" height="16.46" fill="#b80000"/>
<rect x="669.29" y="120.07" width="16.44" height="16.46" fill="#a80000"/>
<rect x="684.53" y="120.07" width="16.44" height="16.46" fill="#940000"/>
<rect x="699.77" y="120.07" width="16.44" height="16.46" fill="#8f0000"/>
<rect x="715.00" y="120.07" width="16.44" height="16.46" fill="#940000"/>
<rect x="730.24" y="120.07" width="16.44" height="16.46" fill="#8a0000"/>
<rect x="745.48" y="120.07" width="16.44" height="16.46" fill="#ad0000"/>
<rect x="760.72" y="120.07" width="16.44" height="16.46" fill="#c70000"/>
<rect x="775.96" y="120.07" width="16.44" height="16.46" fill="#d60000"/>
<rect x="791.20" y="120.07" width="16.44" height="16.46" fill="#f00000"/>
<rect x="806.43" y="120.07" width="16.44" height="16.46" fill="#ff1f00"/>
<rect x="821.67" y="120.07" width="16.44" height="16.46" fill="#ff4200"/>
<rect x="836.91" y="120.07" width="16.44" height="16.46" fill="#ff9400"/>
<rect x="852.15" y="120.07" width="16.44" height="16.46" fill="#ffb300"/>
<rect x="867.39" y="120.07" width="16.44" height="16.46" fill="#ffc700"/>
<rect x="882.62" y="120.07" width="16.44" height="16.46" fill="#ffff00"/>
<rect x="897.86" y="120.07" width="16.44" height="16.46" fill="#faff05"/>
<rect x="591.10" y="135.33" width="18.44" height="16.46" fill="#ff5700"/>
<rect x="608.34" y="135.33" width="16.44" height="16.46" fill="#ff2900"/>
<rect x="623.58" y="135.33" width="16.44" height="16.46" fill="#f00000"/>
<rect x="638.81" y="135.33" width="16.44" height="16.46" fill="#d60000"/>
<rect x="654.05" y="135.33" width="16.44" height="16.46" fill="#c20000"/>
<rect x="669.29" y="135.33" width="16.44" height="16.46" fill="#b30000"/>
<rect x="684.53" y="135.33" width="16.44" height="16.46" fill="#940000"/>
<rect x="699.77" y="135.33" width="16.44" height="16.46" fill="#9e0000"/>
<rect x="715.00" y="135.33" width="16.44" height="16.46" fill="#990000"/>
<rect x="730.24" y="135.33" width="16.44" height="16.46" fill="#940000"/>
<rect x="745.48" y="135.33" width="16.44" height="16.46" fill="#a30000"/>
<rect x="760.72" y="135.33" width="16.44" height="16.46" fill="#c20000"/>
<rect x="775.96" y="135.33" width="16.44" height="16.46" fill="#e00000"/>
<rect x="791.20" y="135.33" width="16.44" height="16.46" fill="#f50000"/>
<rect x="806.43" y="135.33" width="16.44" height="16.46" fill="#ff2900"/>
<rect x="821.67" y="135.33" width="16.44" height="16.46" fill="#ff4c00"/>
<rect x="836.91" y="135.33" width="16.44" height="16.46" fill="#ff8a00"/>
<rect x="852.15" y="135.33" width="16.44" height="16.46" fill="#ffa800"/>
<rect x="867.39" y="135.33" width="16.44" height="16.46" fill="#ffc700"/>
<rect x="882.62" y="135.33" width="16.44" height="16.46" fill="#fff000"/>
<rect x="897.86" y="135.33" width="16.44" height="16.46" fill="#faff05"/>
<rect x="591.10" y="150.60" width="18.44" height="16.46" fill="#ff6b00"/>
<rect x="608.34" y="150.60" width="16.44" height="16.46" fill="#ff3300"/>
<rect x="623.58" y="150.60" width="16.44" height="16.46" fill="#f00000"/>
<rect x="638.81" y="150.60" width="16.44" height="16.46" fill="#db0000"/>
<rect x="654.05" y="150.60" width="16.44" height="16.46" fill="#c20000"/>
<rect x="669.29" y="150.60" width="16.44" height="16.46" fill="#b80000"/>
<rect x="684.53" y="150.60" width="16.44" height="16.46" fill="#940000"/>
<rect x="699.77" y="150.60" width="16.44" height="16.46" fill="#8a0000"/>
<rect x="715.00" y="150.60" width="16.44" height="16.46" fill="#990000"/>
<rect x="730.24" y="150.60" width="16.44" height="16.46" fill="#8f0000"/>
<rect x="745.48" y="150.60" width="16.44" height="16.46" fill="#a30000"/>
<rect x="760.72" y="150.60" width="16.44" height="16.46" fill="#d10000"/>
<rect x="775.96" y="150.60" width="16.44" height="16.46" fill="#e50000"/>
<rect x="791.20" y="150.60" width="16.44" height="16.46" fill="#f50000"/>
<rect x="806.43" y="150.60" width="16.44" height="16.46" fill="#ff3300"/>
<rect x="821.67" y="150.60" width="16.44" height="16.46" fill="#ff6100"/>
<rect x="836.91" y="150.60" width="16.44" height="16.46" fill="#ffa800"/>
<rect x="852.15" y="150.60" width="16.44" height="16.46" fill="#ffbd00"/>
<rect x="867.39" y="150.60" width="16.44" height="16.46" fill="#ffd600"/>
<rect x="882.62" y="150.60" width="16.44" height="16.46" fill="#ffff00"/>
<rect x="897.86" y="150.60" width="16.44" height="16.46" fill="#e0ff1f"/>
<rect x="591.10" y="165.86" width="18.44" height="16.46" fill="#ff7500"/>
<rect x="608.34" y="165.86" width="16.44" height="16.46" fill="#ff3300"/>
<rect x="623.58" y="165.86" width="16.44" height="16.46" fill="#ff0000"/>
<rect x="638.81" y="165.86" width="16.44" height="16.46" fill="#e00000"/>
<rect x="654.05" y="165.86" width="16.44" height="16.46" fill="#c70000"/>
<rect x="669.29" y="165.86" width="16.44" height="16.46" fill="#b30000"/>
<rect x="684.53" y="165.86" width="16.44" height="16.46" fill="#940000"/>
<rect x="699.77" y="165.86" width="16.44" height="16.46" fill="#8f0000"/>
<rect x="715.00" y="165.86" width="16.44" height="16.46" fill="#990000"/>
<rect x="730.24" y="165.86" width="16.44" height="16.46" fill="#940000"/>
<rect x="745.48" y="165.86" width="16.44" height="16.46" fill="#c70000"/>
<rect x="760.72" y="165.86" width="16.44" height="16.46" fill="#c70000"/>
<rect x="775.96" y="165.86" width="16.44" height="16.46" fill="#e00000"/>
<rect x="791.20" y="165.86" width="16.44" height="16.46" fill="#ff0a00"/>
<rect x="806.43" y="165.86" width="16.44" height="16.46" fill="#ff3300"/>
<rect x="821.67" y="165.86" width="16.44" height="16.46" fill="#ff6b00"/>
<rect x="836.91" y="165.86" width="16.44" height="16.46" fill="#ffa800"/>
<rect x="852.15" y="165.86" width="16.44" height="16.46" fill="#ffc700"/>
<rect x="867.39" y="165.86" width="16.44" height="16.46" fill="#ffd600"/>
<rect x="882.62" y="165.86" width="16.44" height="16.46" fill="#faff05"/>
<rect x="897.86" y="165.86" width="16.44" height="16.46" fill="#d6ff29"/>
<rect x="591.10" y="181.12" width="18.44" height="16.46" fill="#ff8000"/>
<rect x="608.34" y="181.12" width="16.44" height="16.46" fill="#ff3300"/>
<rect x="623.58" y="181.12" width="16.44" height="16.46" fill="#ff0a00"/>
<rect x="638.81" y="181.12" width="16.44" height="16.46" fill="#e50000"/>
<rect x="654.05" y="181.12" width="16.44" height="16.46" fill="#c70000"/>
<rect x="669.29" y="181.12" width="16.44" height="16.46" fill="#b80000"/>
<rect x="684.53" y="181.12" width="16.44" height="16.46" fill="#a80000"/>
<rect x="699.77" y="181.12" width="16.44" height="16.46" fill="#940000"/>
<rect x="715.00" y="181.12" width="16.44" height="16.46" fill="#800000"/>
<rect x="730.24" y="181.12" width="16.44" height="16.46" fill="#a80000"/>
<rect x="745.48" y="181.12" width="16.44" height="16.46" fill="#c70000"/>
<rect x="760.72" y="181.12" width="16.44" height="16.46" fill="#e00000"/>
<rect x="775.96" y="181.12" width="16.44" height="16.46" fill="#ff0000"/>
<rect x="791.20" y="181.12" width="16.44" height="16.46" fill="#ff1400"/>
<rect x="806.43" y="181.12" width="16.44" height="16.46" fill="#ff3d00"/>
<rect x="821.67" y="181.12" width="16.44" height="16.46" fill="#ff6b00"/>
<rect x="836.91" y="181.12" width="16.44" height="16.46" fill="#ffa800"/>
<rect x="852.15" y="181.12" width="16.44" height="16.46" fill="#ffd100"/>
<rect x="867.39" y="181.12" width="16.44" height="16.46" fill="#fff000"/>
<rect x="882.62" y="181.12" width="16.44" height="16.46" fill="#e0ff1f"/>
<rect x="897.86" y="181.12" width="16.44" height="16.46" fill="#c7ff38"/>
<rect x="591.10" y="196.38" width="18.44" height="16.46" fill="#ff9400"/>
<rect x="608.34" y="196.38" width="16.44" height="16.46" fill="#ff3d00"/>
<rect x="623.58" y="196.38" width="16.44" height="16.46" fill="#ff1400"/>
<rect x="638.81" y="196.38" width="16.44" height="16.46" fill="#f00000"/>
<rect x="654.05" y="196.38" width="16.44" height="16.46" fill="#cc0000"/>
<rect x="669.29" y="196.38" width="16.44" height="16.46" fill="#c70000"/>
<rect x="684.53" y="196.38" width="16.44" height="16.46" fill="#b80000"/>
<rect x="699.77" y="196.38" width="16.44" height="16.46" fill="#990000"/>
<rect x="715.00" y="196.38" width="16.44" height="16.46" fill="#850000"/>
<rect x="730.24" y="196.38" width="16.44" height="16.46" fill="#a30000"/>
<rect x="745.48" y="196.38" width="16.44" height="16.46" fill="#bd0000"/>
<rect x="760.72" y="196.38" width="16.44" height="16.46" fill="#ff0000"/>
<rect x="775.96" y="196.38" width="16.44" height="16.46" fill="#ff0000"/>
<rect x="791.20" y="196.38" width="16.44" height="16.46" fill="#ff2900"/>
<rect x="806.43" y="196.38" width="16.44" height="16.46" fill="#ff4c00"/>
<rect x="821.67" y="196.38" width="16.44" height="16.46" fill="#ff7500"/>
<rect x="836.91" y="196.38" width="16.44" height="16.46" fill="#ffad00"/>
<rect x="852.15" y="196.38" width="16.44" height="16.46" fill="#ffe000"/>
<rect x="867.39" y="196.38" width="16.44" height="16.46" fill="#ffff00"/>
<rect x="882.62" y="196.38" width="16.44" height="16.46" fill="#bdff42"/>
<rect x="897.86" y="196.38" width="16.44" height="16.46" fill="#94ff6b"/>
<rect x="591.10" y="211.64" width="18.44" height="16.46" fill="#ffa800"/>
<rect x="608.34" y="211.64" width="16.44" height="16.46" fill="#ff5700"/>
<rect x="623.58" y="211.64" width="16.44" height="16.46" fill="#ff1400"/>
<rect x="638.81" y="211.64" width="16.44" height="16.46" fill="#f50000"/>
<rect x="654.05" y="211.64" width="16.44" height="16.46" fill="#e00000"/>
<rect x="669.29" y="211.64" width="16.44" height="16.46" fill="#c20000"/>
<rect x="684.53" y="211.64" width="16.44" height="16.46" fill="#c20000"/>
<rect x="699.77" y="211.64" width="16.44" height="16.46" fill="#8f0000"/>
<rect x="715.00" y="211.64" width="16.44" height="16.46" fill="#9e0000"/>
<rect x="730.24" y="211.64" width="16.44" height="16.46" fill="#b80000"/>
<rect x="745.48" y="211.64" width="16.44" height="16.46" fill="#cc0000"/>
<rect x="760.72" y="211.64" width="16.44" height="16.46" fill="#ff0000"/>
<rect x="775.96" y="211.64" width="16.44" height="16.46" fill="#ff1f00"/>
<rect x="791.20" y="211.64" width="16.44" height="16.46" fill="#ff3300"/>
<rect x="806.43" y="211.64" width="16.44" height="16.46" fill="#ff6b00"/>
<rect x="821.67" y="211.64" width="16.44" height="16.46" fill="#ff8000"/>
<rect x="836.91" y="211.64" width="16.44" height="16.46" fill="#ffb800"/>
<rect x="852.15" y="211.64" width="16.44" height="16.46" fill="#ffe500"/>
<rect x="867.39" y="211.64" width="16.44" height="16.46" fill="#bdff42"/>
<rect x="882.62" y="211.64" width="16.44" height="16.46" fill="#9eff61"/>
<rect x="897.86" y="211.64" width="16.44" height="16.46" fill="#61ff9e"/>
<rect x="591.10" y="226.90" width="18.44" height="16.46" fill="#ffbd00"/>
<rect x="608.34" y="226.90" width="16.44" height="16.46" fill="#ff6b00"/>
<rect x="623.58" y="226.90" width="16.44" height="16.46" fill="#ff2900"/>
<rect x="638.81" y="226.90" width="16.44" height="16.46" fill="#f50000"/>
<rect x="654.05" y="226.90" width="16.44" height="16.46" fill="#e50000"/>
<rect x="669.29" y="226.90" width="16.44" height="16.46" fill="#d10000"/>
<rect x="684.53" y="226.90" width="16.44" height="16.46" fill="#c70000"/>
<rect x="699.77" y="226.90" width="16.44" height="16.46" fill="#b80000"/>
<rect x="715.00" y="226.90" width="16.44" height="16.46" fill="#b80000"/>
<rect x="730.24" y="226.90" width="16.44" height="16.46" fill="#c70000"/>
<rect x="745.48" y="226.90" width="16.44" height="16.46" fill="#d60000"/>
<rect x="760.72" y="226.90" width="16.44" height="16.46" fill="#ff0000"/>
<rect x="775.96" y="226.90" width="16.44" height="16.46" fill="#ff1400"/>
<rect x="791.20" y="226.90" width="16.44" height="16.46" fill="#ff5700"/>
<rect x="806.43" y="226.90" width="16.44" height="16.46" fill="#ff6100"/>
<rect x="821.67" y="226.90" width="16.44" height="16.46" fill="#ff9e00"/>
<rect x="836.91" y="226.90" width="16.44" height="16.46" fill="#ffc700"/>
<rect x="852.15" y="226.90" width="16.44" height="16.46" fill="#faff05"/>
<rect x="867.39" y="226.90" width="16.44" height="16.46" fill="#b3ff4c"/>
<rect x="882.62" y="226.90" width="16.44" height="16.46" fill="#94ff6b"/>
<rect x="897.86" y="226.90" width="16.44" height="16.46" fill="#94ff6b"/>
<rect x="591.10" y="242.17" width="18.44" height="16.46" fill="#ffd100"/>
<rect x="608.34" y="242.17" width="16.44" height="16.46" fill="#ff9400"/>
<rect x="623.58" y="242.17" width="16.44" height="16.46" fill="#ff3300"/>
<rect x="638.81" y="242.17" width="16.44" height="16.46" fill="#ff1400"/>
<rect x="654.05" y="242.17" width="16.44" height="16.46" fill="#fa0000"/>
<rect x="669.29" y="242.17" width="16.44" height="16.46" fill="#e00000"/>
<rect x="684.53" y="242.17" width="16.44" height="16.46" fill="#db0000"/>
<rect x="699.77" y="242.17" width="16.44" height="16.46" fill="#bd0000"/>
<rect x="715.00" y="242.17" width="16.44" height="16.46" fill="#bd0000"/>
<rect x="730.24" y="242.17" width="16.44" height="16.46" fill="#d60000"/>
<rect x="745.48" y="242.17" width="16.44" height="16.46" fill="#fa0000"/>
<rect x="760.72" y="242.17" width="16.44" height="16.46" fill="#ff0a00"/>
<rect x="775.96" y="242.17" width="16.44" height="16.46" fill="#ff3d00"/>
<rect x="791.20" y="242.17" width="16.44" height="16.46" fill="#ff6100"/>
<rect x="806.43" y="242.17" width="16.44" height="16.46" fill="#ff8a00"/>
<rect x="821.67" y="242.17" width="16.44" height="16.46" fill="#ff9e00"/>
<rect x="836.91" y="242.17" width="16.44" height="16.46" fill="#ffe500"/>
<rect x="852.15" y="242.17" width="16.44" height="16.46" fill="#e0ff1f"/>
<rect x="867.39" y="242.17" width="16.44" height="16.46" fill="#bdff42"/>
<rect x="882.62" y="242.17" width="16.44" height="16.46" fill="#a8ff57"/>
<rect x="897.86" y="242.17" width="16.44" height="16.46" fill="#94ff6b"/>
<rect x="591.10" y="257.43" width="18.44" height="16.46" fill="#ffe500"/>
<rect x="608.34" y="257.43" width="16.44" height="16.46" fill="#ffa800"/>
<rect x="623.58" y="257.43" width="16.44" height="16.46" fill="#ff3d00"/>
<rect x="638.81" y="257.43" width="16.44" height="16.46" fill="#ff1400"/>
<rect x="654.05" y="257.43" width="16.44" height="16.46" fill="#fa0000"/>
<rect x="669.29" y="257.43" width="16.44" height="16.46" fill="#e00000"/>
<rect x="684.53" y="257.43" width="16.44" height="16.46" fill="#c70000"/>
<rect x="699.77" y="257.43" width="16.44" height="16.46" fill="#f00000"/>
<rect x="715.00" y="257.43" width="16.44" height="16.46" fill="#e00000"/>
<rect x="730.24" y="257.43" width="16.44" height="16.46" fill="#eb0000"/>
<rect x="745.48" y="257.43" width="16.44" height="16.46" fill="#fa0000"/>
<rect x="760.72" y="257.43" width="16.44" height="16.46" fill="#ff1f00"/>
<rect x="775.96" y="257.43" width="16.44" height="16.46" fill="#ff3300"/>
<rect x="791.20" y="257.43" width="16.44" height="16.46" fill="#ff7500"/>
<rect x="806.43" y="257.43" width="16.44" height="16.46" fill="#ffa800"/>
<rect x="821.67" y="257.43" width="16.44" height="16.46" fill="#ffb300"/>
<rect x="836.91" y="257.43" width="16.44" height="16.46" fill="#ffdb00"/>
<rect x="852.15" y="257.43" width="16.44" height="16.46" fill="#ffeb00"/>
<rect x="867.39" y="257.43" width="16.44" height="16.46" fill="#d1ff2e"/>
<rect x="882.62" y="257.43" width="16.44" height="16.46" fill="#80ff80"/>
<rect x="897.86" y="257.43" width="16.44" height="16.46" fill="#61ff9e"/>
<rect x="591.10" y="272.69" width="18.44" height="16.46" fill="#e5ff1a"/>
<rect x="608.34" y="272.69" width="16.44" height="16.46" fill="#ffb300"/>
<rect x="623.58" y="272.69" width="16.44" height="16.46" fill="#ff5700"/>
<rect x="638.81" y="272.69" width="16.44" height="16.46" fill="#ff2900"/>
<rect x="654.05" y="272.69" width="16.44" height="16.46" fill="#ff2900"/>
<rect x="669.29" y="272.69" width="16.44" height="16.46" fill="#ff1400"/>
<rect x="684.53" y="272.69" width="16.44" height="16.46" fill="#eb0000"/>
<rect x="699.77" y="272.69" width="16.44" height="16.46" fill="#e50000"/>
<rect x="715.00" y="272.69" width="16.44" height="16.46" fill="#eb0000"/>
<rect x="730.24" y="272.69" width="16.44" height="16.46" fill="#f50000"/>
<rect x="745.48" y="272.69" width="16.44" height="16.46" fill="#ff1f00"/>
<rect x="760.72" y="272.69" width="16.44" height="16.46" fill="#ff4200"/>
<rect x="775.96" y="272.69" width="16.44" height="16.46" fill="#ff6100"/>
<rect x="791.20" y="272.69" width="16.44" height="16.46" fill="#ff8a00"/>
<rect x="806.43" y="272.69" width="16.44" height="16.46" fill="#ff9400"/>
<rect x="821.67" y="272.69" width="16.44" height="16.46" fill="#ffbd00"/>
<rect x="836.91" y="272.69" width="16.44" height="16.46" fill="#ffe500"/>
<rect x="852.15" y="272.69" width="16.44" height="16.46" fill="#dbff24"/>
<rect x="867.39" y="272.69" width="16.44" height="16.46" fill="#bdff42"/>
<rect x="882.62" y="272.69" width="16.44" height="16.46" fill="#94ff6b"/>
<rect x="897.86" y="272.69" width="16.44" height="16.46" fill="#61ff9e"/>
<rect x="591.10" y="287.95" width="18.44" height="16.46" fill="#61ff9e"/>
<rect x="608.34" y="287.95" width="16.44" height="16.46" fill="#ffeb00"/>
<rect x="623.58" y="287.95" width="16.44" height="16.46" fill="#ff6100"/>
<rect x="638.81" y="287.95" width="16.44" height="16.46" fill="#ff4c00"/>
<rect x="654.05" y="287.95" width="16.44" height="16.46" fill="#ff1f00"/>
<rect x="669.29" y="287.95" width="16.44" height="16.46" fill="#ff1400"/>
<rect x="684.53" y="287.95" width="16.44" height="16.46" fill="#ff1400"/>
<rect x="699.77" y="287.95" width="16.44" height="16.46" fill="#ff1400"/>
<rect x="715.00" y="287.95" width="16.44" height="16.46" fill="#ff1400"/>
<rect x="730.24" y="287.95" width="16.44" height="16.46" fill="#ff1f00"/>
<rect x="745.48" y="287.95" width="16.44" height="16.46" fill="#ff4200"/>
<rect x="760.72" y="287.95" width="16.44" height="16.46" fill="#ff4c00"/>
<rect x="775.96" y="287.95" width="16.44" height="16.46" fill="#ff5700"/>
<rect x="791.20" y="287.95" width="16.44" height="16.46" fill="#ff6b00"/>
<rect x="806.43" y="287.95" width="16.44" height="16.46" fill="#ffa800"/>
<rect x="821.67" y="287.95" width="16.44" height="16.46" fill="#ffb300"/>
<rect x="836.91" y="287.95" width="16.44" height="16.46" fill="#ffeb00"/>
<rect x="852.15" y="287.95" width="16.44" height="16.46" fill="#c7ff38"/>
<rect x="867.39" y="287.95" width="16.44" height="16.46" fill="#bdff42"/>
<rect x="882.62" y="287.95" width="16.44" height="16.46" fill="#61ff9e"/>
<rect x="897.86" y="287.95" width="16.44" height="16.46" fill="#0ffff0"/>
<rect x="591.10" y="303.21" width="18.44" height="16.46" fill="#3dffc2"/>
<rect x="608.34" y="303.21" width="16.44" height="16.46" fill="#c7ff38"/>
<rect x="623.58" y="303.21" width="16.44" height="16.46" fill="#ffbd00"/>
<rect x="638.81" y="303.21" width="16.44" height="16.46" fill="#ff6100"/>
<rect x="654.05" y="303.21" width="16.44" height="16.46" fill="#ff4200"/>
<rect x="669.29" y="303.21" width="16.44" height="16.46" fill="#ff6b00"/>
<rect x="684.53" y="303.21" width="16.44" height="16.46" fill="#ff2900"/>
<rect x="699.77" y="303.21" width="16.44" height="16.46" fill="#ff4c00"/>
<rect x="715.00" y="303.21" width="16.44" height="16.46" fill="#ff4c00"/>
<rect x="730.24" y="303.21" width="16.44" height="16.46" fill="#ff6100"/>
<rect x="745.48" y="303.21" width="16.44" height="16.46" fill="#ff6b00"/>
<rect x="760.72" y="303.21" width="16.44" height="16.46" fill="#ff6b00"/>
<rect x="775.96" y="303.21" width="16.44" height="16.46" fill="#ff7500"/>
<rect x="791.20" y="303.21" width="16.44" height="16.46" fill="#ff9400"/>
<rect x="806.43" y="303.21" width="16.44" height="16.46" fill="#ffb300"/>
<rect x="821.67" y="303.21" width="16.44" height="16.46" fill="#ffb300"/>
<rect x="836.91" y="303.21" width="16.44" height="16.46" fill="#ffdb00"/>
<rect x="852.15" y="303.21" width="16.44" height="16.46" fill="#bdff42"/>
<rect x="867.39" y="303.21" width="16.44" height="16.46" fill="#3dffc2"/>
<rect x="882.62" y="303.21" width="16.44" height="16.46" fill="#00f5ff"/>
<rect x="897.86" y="303.21" width="16.44" height="16.46" fill="#00dbff"/>
<rect x="591.10" y="318.48" width="18.44" height="16.46" fill="#00a8ff"/>
<rect x="608.34" y="318.48" width="16.44" height="16.46" fill="#75ff8a"/>
<rect x="623.58" y="318.48" width="16.44" height="16.46" fill="#ffdb00"/>
<rect x="638.81" y="318.48" width="16.44" height="16.46" fill="#ff9e00"/>
<rect x="654.05" y="318.48" width="16.44" height="16.46" fill="#ff8a00"/>
<rect x="669.29" y="318.48" width="16.44" height="16.46" fill="#ffbd00"/>
<rect x="684.53" y="318.48" width="16.44" height="16.46" fill="#ffd100"/>
<rect x="699.77" y="318.48" width="16.44" height="16.46" fill="#ffbd00"/>
<rect x="715.00" y="318.48" width="16.44" height="16.46" fill="#ff8a00"/>
<rect x="730.24" y="318.48" width="16.44" height="16.46" fill="#fff000"/>
<rect x="745.48" y="318.48" width="16.44" height="16.46" fill="#d1ff2e"/>
<rect x="760.72" y="318.48" width="16.44" height="16.46" fill="#dbff24"/>
<rect x="775.96" y="318.48" width="16.44" height="16.46" fill="#faff05"/>
<rect x="791.20" y="318.48" width="16.44" height="16.46" fill="#80ff80"/>
<rect x="806.43" y="318.48" width="16.44" height="16.46" fill="#24ffdb"/>
<rect x="821.67" y="318.48" width="16.44" height="16.46" fill="#00bdff"/>
<rect x="836.91" y="318.48" width="16.44" height="16.46" fill="#0094ff"/>
<rect x="852.15" y="318.48" width="16.44" height="16.46" fill="#0094ff"/>
<rect x="867.39" y="318.48" width="16.44" height="16.46" fill="#0042ff"/>
<rect x="882.62" y="318.48" width="16.44" height="16.46" fill="#004dff"/>
<rect x="897.86" y="318.48" width="16.44" height="16.46" fill="#0000c7"/>
<rect x="591.10" y="333.74" width="18.44" height="16.46" fill="#000080"/>
<rect x="608.34" y="333.74" width="16.44" height="16.46" fill="#000080"/>
<rect x="623.58" y="333.74" width="16.44" height="16.46" fill="#000080"/>
<rect x="638.81" y="333.74" width="16.44" height="16.46" fill="#000080"/>
<rect x="654.05" y="333.74" width="16.44" height="16.46" fill="#000080"/>
<rect x="669.29" y="333.74" width="16.44" height="16.46" fill="#000080"/>
<rect x="684.53" y="333.74" width="16.44" height="16.46" fill="#000080"/>
<rect x="699.77" y="333.74" width="16.44" height="16.46" fill="#000080"/>
<rect x="715.00" y="333.74" width="16.44" height="16.46" fill="#000080"/>
<rect x="730.24" y="333.74" width="16.44" height="16.46" fill="#000080"/>
<rect x="745.48" y="333.74" width="16.44" height="16.46" fill="#000080"/>
<rect x="760.72" y="333.74" width="16.44" height="16.46" fill="#000080"/>
<rect x="775.96" y="333.74" width="16.44" height="16.46" fill="#000080"/>
<rect x="791.20" y="333.74" width="16.44" height="16.46" fill="#000080"/>
<rect x="806.43" y="333.74" width="16.44" height="16.46" fill="#000080"/>
<rect x="821.67" y="333.74" width="16.44" height="16.46" fill="#000080"/>
<rect x="836.91" y="333.74" width="16.44" height="16.46" fill="#000080"/>
<rect x="852.15" y="333.74" width="16.44" height="16.46" fill="#000080"/>
<rect x="867.39" y="333.74" width="16.44" height="16.46" fill="#000080"/>
<rect x="882.62" y="333.74" width="16.44" height="16.46" fill="#000080"/>
<rect x="897.86" y="333.74" width="16.44" height="16.46" fill="#000080"/>
</g>
<path d="M593.60 349.00v-11.5M633.10 349.00v-6.0M673.10 349.00v-6.0M713.10 349.00v-6.0M753.10 349.00v-11.5M793.10 349.00v-6.0M833.10 349.00v-6.0M873.10 349.00v-6.0M912.60 349.00v-11.5M593.10 29.00h11.5M593.10 68.96h6.0M593.10 109.03h6.0M593.10 149.09h6.0M593.10 189.15h11.5M593.10 229.21h6.0M593.10 269.27h6.0M593.10 309.34h6.0M593.10 348.50h11.5" stroke="#262626" stroke-width="1" fill="none" opacity="0.65"/>
<rect x="730.34" y="119.52" width="15.35" height="16.05" fill="none" stroke="#00ffff" stroke-width="2.65"/>
<path d="M593.40 28.50V348.70H913.10" stroke="#262626" stroke-width="0.8" fill="none" opacity="0.45"/>
<text class="t" x="753.6" y="16.1" text-anchor="middle">Coefficient of Determination (R²)</text>
<text class="a" x="585.1" y="35.2" text-anchor="end">1000</text>
<text class="a" x="585.1" y="195.4" text-anchor="end">500</text>
<text class="a" x="585.1" y="355.7" text-anchor="end">1</text>
<text class="a" x="593.6" y="366.0" text-anchor="middle">0</text>
<text class="a" x="753.6" y="366.0" text-anchor="middle">10</text>
<text class="a" x="913.6" y="366.0" text-anchor="middle">20</text>
<text class="a" x="753.4" y="383.9" text-anchor="middle">Noise [%]</text>
<text class="a" transform="translate(537.1 188.8) rotate(-90)" text-anchor="middle">Number of Fits</text>
<rect x="987.00" y="28.75" width="33.60" height="320.25" fill="url(#jet)"/>
<path d="M987.50 28.50v320.50M987.00 39.56h5.0M987.00 58.90h9.0M987.00 78.24h5.0M987.00 97.58h5.0M987.00 116.92h5.0M987.00 136.26h5.0M987.00 155.60h9.0M987.00 174.94h5.0M987.00 194.28h5.0M987.00 213.62h5.0M987.00 232.96h5.0M987.00 252.30h9.0M987.00 271.64h5.0M987.00 290.98h5.0M987.00 310.32h5.0M987.00 329.66h5.0M987.00 349.00h9.0" stroke="#000" stroke-width="1" fill="none"/>
<text class="c" x="980.8" y="63.4" text-anchor="end">0.65</text>
<text class="c" x="980.8" y="160.1" text-anchor="end">0.60</text>
<text class="c" x="980.8" y="256.8" text-anchor="end">0.55</text>
<text class="c" x="980.8" y="353.5" text-anchor="end">0.50</text>
<clipPath id="c2"><rect x="74.10" y="430.40" width="320.00" height="320.35"/></clipPath>
<g clip-path="url(#c2)">
<rect x="72.10" y="428.40" width="18.44" height="18.45" fill="#ffe000"/>
<rect x="89.34" y="428.40" width="16.44" height="18.45" fill="#ffdb00"/>
<rect x="104.58" y="428.40" width="16.44" height="18.45" fill="#ffe000"/>
<rect x="119.81" y="428.40" width="16.44" height="18.45" fill="#ffeb00"/>
<rect x="135.05" y="428.40" width="16.44" height="18.45" fill="#ffff00"/>
<rect x="150.29" y="428.40" width="16.44" height="18.45" fill="#ebff14"/>
<rect x="165.53" y="428.40" width="16.44" height="18.45" fill="#d1ff2e"/>
<rect x="180.77" y="428.40" width="16.44" height="18.45" fill="#adff52"/>
<rect x="196.00" y="428.40" width="16.44" height="18.45" fill="#85ff7a"/>
<rect x="211.24" y="428.40" width="16.44" height="18.45" fill="#5cffa3"/>
<rect x="226.48" y="428.40" width="16.44" height="18.45" fill="#2effd1"/>
<rect x="241.72" y="428.40" width="16.44" height="18.45" fill="#00ffff"/>
<rect x="256.96" y="428.40" width="16.44" height="18.45" fill="#00d6ff"/>
<rect x="272.20" y="428.40" width="16.44" height="18.45" fill="#00b8ff"/>
<rect x="287.43" y="428.40" width="16.44" height="18.45" fill="#008aff"/>
<rect x="302.67" y="428.40" width="16.44" height="18.45" fill="#006bff"/>
<rect x="317.91" y="428.40" width="16.44" height="18.45" fill="#004dff"/>
<rect x="333.15" y="428.40" width="16.44" height="18.45" fill="#0033ff"/>
<rect x="348.39" y="428.40" width="16.44" height="18.45" fill="#0019ff"/>
<rect x="363.62" y="428.40" width="16.44" height="18.45" fill="#0000fa"/>
<rect x="378.86" y="428.40" width="16.44" height="18.45" fill="#0000e0"/>
<rect x="72.10" y="445.65" width="18.44" height="16.45" fill="#ffdb00"/>
<rect x="89.34" y="445.65" width="16.44" height="16.45" fill="#ffd700"/>
<rect x="104.58" y="445.65" width="16.44" height="16.45" fill="#ffdb00"/>
<rect x="119.81" y="445.65" width="16.44" height="16.45" fill="#ffe500"/>
<rect x="135.05" y="445.65" width="16.44" height="16.45" fill="#fff800"/>
<rect x="150.29" y="445.65" width="16.44" height="16.45" fill="#f0ff0f"/>
<rect x="165.53" y="445.65" width="16.44" height="16.45" fill="#d5ff2a"/>
<rect x="180.77" y="445.65" width="16.44" height="16.45" fill="#b1ff4e"/>
<rect x="196.00" y="445.65" width="16.44" height="16.45" fill="#88ff77"/>
<rect x="211.24" y="445.65" width="16.44" height="16.45" fill="#5fffa0"/>
<rect x="226.48" y="445.65" width="16.44" height="16.45" fill="#31ffce"/>
<rect x="241.72" y="445.65" width="16.44" height="16.45" fill="#03fffc"/>
<rect x="256.96" y="445.65" width="16.44" height="16.45" fill="#00d8ff"/>
<rect x="272.20" y="445.65" width="16.44" height="16.45" fill="#00baff"/>
<rect x="287.43" y="445.65" width="16.44" height="16.45" fill="#008dff"/>
<rect x="302.67" y="445.65" width="16.44" height="16.45" fill="#006eff"/>
<rect x="317.91" y="445.65" width="16.44" height="16.45" fill="#004fff"/>
<rect x="333.15" y="445.65" width="16.44" height="16.45" fill="#0035ff"/>
<rect x="348.39" y="445.65" width="16.44" height="16.45" fill="#001bff"/>
<rect x="363.62" y="445.65" width="16.44" height="16.45" fill="#0000fc"/>
<rect x="378.86" y="445.65" width="16.44" height="16.45" fill="#0000e4"/>
<rect x="72.10" y="460.91" width="18.44" height="16.45" fill="#ffd600"/>
<rect x="89.34" y="460.91" width="16.44" height="16.45" fill="#ffd300"/>
<rect x="104.58" y="460.91" width="16.44" height="16.45" fill="#ffd500"/>
<rect x="119.81" y="460.91" width="16.44" height="16.45" fill="#ffdf00"/>
<rect x="135.05" y="460.91" width="16.44" height="16.45" fill="#fff200"/>
<rect x="150.29" y="460.91" width="16.44" height="16.45" fill="#f5ff0a"/>
<rect x="165.53" y="460.91" width="16.44" height="16.45" fill="#d8ff27"/>
<rect x="180.77" y="460.91" width="16.44" height="16.45" fill="#b5ff4a"/>
<rect x="196.00" y="460.91" width="16.44" height="16.45" fill="#8cff73"/>
<rect x="211.24" y="460.91" width="16.44" height="16.45" fill="#62ff9d"/>
<rect x="226.48" y="460.91" width="16.44" height="16.45" fill="#34ffcb"/>
<rect x="241.72" y="460.91" width="16.44" height="16.45" fill="#06fff9"/>
<rect x="256.96" y="460.91" width="16.44" height="16.45" fill="#00dbff"/>
<rect x="272.20" y="460.91" width="16.44" height="16.45" fill="#00bcff"/>
<rect x="287.43" y="460.91" width="16.44" height="16.45" fill="#0090ff"/>
<rect x="302.67" y="460.91" width="16.44" height="16.45" fill="#0071ff"/>
<rect x="317.91" y="460.91" width="16.44" height="16.45" fill="#0052ff"/>
<rect x="333.15" y="460.91" width="16.44" height="16.45" fill="#0037ff"/>
<rect x="348.39" y="460.91" width="16.44" height="16.45" fill="#001cff"/>
<rect x="363.62" y="460.91" width="16.44" height="16.45" fill="#0000fe"/>
<rect x="378.86" y="460.91" width="16.44" height="16.45" fill="#0000e8"/>
<rect x="72.10" y="476.16" width="18.44" height="16.45" fill="#ffd100"/>
<rect x="89.34" y="476.16" width="16.44" height="16.45" fill="#ffce00"/>
<rect x="104.58" y="476.16" width="16.44" height="16.45" fill="#ffcf00"/>
<rect x="119.81" y="476.16" width="16.44" height="16.45" fill="#ffd900"/>
<rect x="135.05" y="476.16" width="16.44" height="16.45" fill="#ffeb00"/>
<rect x="150.29" y="476.16" width="16.44" height="16.45" fill="#faff05"/>
<rect x="165.53" y="476.16" width="16.44" height="16.45" fill="#dcff23"/>
<rect x="180.77" y="476.16" width="16.44" height="16.45" fill="#b8ff47"/>
<rect x="196.00" y="476.16" width="16.44" height="16.45" fill="#90ff6f"/>
<rect x="211.24" y="476.16" width="16.44" height="16.45" fill="#65ff9a"/>
<rect x="226.48" y="476.16" width="16.44" height="16.45" fill="#37ffc8"/>
<rect x="241.72" y="476.16" width="16.44" height="16.45" fill="#09fff6"/>
<rect x="256.96" y="476.16" width="16.44" height="16.45" fill="#00ddff"/>
<rect x="272.20" y="476.16" width="16.44" height="16.45" fill="#00beff"/>
<rect x="287.43" y="476.16" width="16.44" height="16.45" fill="#0092ff"/>
<rect x="302.67" y="476.16" width="16.44" height="16.45" fill="#0074ff"/>
<rect x="317.91" y="476.16" width="16.44" height="16.45" fill="#0055ff"/>
<rect x="333.15" y="476.16" width="16.44" height="16.45" fill="#003aff"/>
<rect x="348.39" y="476.16" width="16.44" height="16.45" fill="#001eff"/>
<rect x="363.62" y="476.16" width="16.44" height="16.45" fill="#0001ff"/>
<rect x="378.86" y="476.16" width="16.44" height="16.45" fill="#0000eb"/>
<rect x="72.10" y="491.42" width="18.44" height="16.45" fill="#ffcc00"/>
<rect x="89.34" y="491.42" width="16.44" height="16.45" fill="#ffca00"/>
<rect x="104.58" y="491.42" width="16.44" height="16.45" fill="#ffc900"/>
<rect x="119.81" y="491.42" width="16.44" height="16.45" fill="#ffd300"/>
<rect x="135.05" y="491.42" width="16.44" height="16.45" fill="#ffe500"/>
<rect x="150.29" y="491.42" width="16.44" height="16.45" fill="#ffff00"/>
<rect x="165.53" y="491.42" width="16.44" height="16.45" fill="#e0ff1f"/>
<rect x="180.77" y="491.42" width="16.44" height="16.45" fill="#bcff43"/>
<rect x="196.00" y="491.42" width="16.44" height="16.45" fill="#93ff6c"/>
<rect x="211.24" y="491.42" width="16.44" height="16.45" fill="#67ff98"/>
<rect x="226.48" y="491.42" width="16.44" height="16.45" fill="#3affc5"/>
<rect x="241.72" y="491.42" width="16.44" height="16.45" fill="#0cfff3"/>
<rect x="256.96" y="491.42" width="16.44" height="16.45" fill="#00dfff"/>
<rect x="272.20" y="491.42" width="16.44" height="16.45" fill="#00c0ff"/>
<rect x="287.43" y="491.42" width="16.44" height="16.45" fill="#0095ff"/>
<rect x="302.67" y="491.42" width="16.44" height="16.45" fill="#0077ff"/>
<rect x="317.91" y="491.42" width="16.44" height="16.45" fill="#0058ff"/>
<rect x="333.15" y="491.42" width="16.44" height="16.45" fill="#003cff"/>
<rect x="348.39" y="491.42" width="16.44" height="16.45" fill="#001fff"/>
<rect x="363.62" y="491.42" width="16.44" height="16.45" fill="#0004ff"/>
<rect x="378.86" y="491.42" width="16.44" height="16.45" fill="#0000ef"/>
<rect x="72.10" y="506.67" width="18.44" height="16.45" fill="#ffc700"/>
<rect x="89.34" y="506.67" width="16.44" height="16.45" fill="#ffc500"/>
<rect x="104.58" y="506.67" width="16.44" height="16.45" fill="#ffc300"/>
<rect x="119.81" y="506.67" width="16.44" height="16.45" fill="#ffcd00"/>
<rect x="135.05" y="506.67" width="16.44" height="16.45" fill="#ffde00"/>
<rect x="150.29" y="506.67" width="16.44" height="16.45" fill="#fffa00"/>
<rect x="165.53" y="506.67" width="16.44" height="16.45" fill="#e3ff1c"/>
<rect x="180.77" y="506.67" width="16.44" height="16.45" fill="#c0ff3f"/>
<rect x="196.00" y="506.67" width="16.44" height="16.45" fill="#97ff68"/>
<rect x="211.24" y="506.67" width="16.44" height="16.45" fill="#6aff95"/>
<rect x="226.48" y="506.67" width="16.44" height="16.45" fill="#3cffc3"/>
<rect x="241.72" y="506.67" width="16.44" height="16.45" fill="#0ffff0"/>
<rect x="256.96" y="506.67" width="16.44" height="16.45" fill="#00e1ff"/>
<rect x="272.20" y="506.67" width="16.44" height="16.45" fill="#00c3ff"/>
<rect x="287.43" y="506.67" width="16.44" height="16.45" fill="#0098ff"/>
<rect x="302.67" y="506.67" width="16.44" height="16.45" fill="#007aff"/>
<rect x="317.91" y="506.67" width="16.44" height="16.45" fill="#005bff"/>
<rect x="333.15" y="506.67" width="16.44" height="16.45" fill="#003eff"/>
<rect x="348.39" y="506.67" width="16.44" height="16.45" fill="#0021ff"/>
<rect x="363.62" y="506.67" width="16.44" height="16.45" fill="#0006ff"/>
<rect x="378.86" y="506.67" width="16.44" height="16.45" fill="#0000f3"/>
<rect x="72.10" y="521.93" width="18.44" height="16.45" fill="#ffc200"/>
<rect x="89.34" y="521.93" width="16.44" height="16.45" fill="#ffc100"/>
<rect x="104.58" y="521.93" width="16.44" height="16.45" fill="#ffbd00"/>
<rect x="119.81" y="521.93" width="16.44" height="16.45" fill="#ffc800"/>
<rect x="135.05" y="521.93" width="16.44" height="16.45" fill="#ffd800"/>
<rect x="150.29" y="521.93" width="16.44" height="16.45" fill="#fff500"/>
<rect x="165.53" y="521.93" width="16.44" height="16.45" fill="#e7ff18"/>
<rect x="180.77" y="521.93" width="16.44" height="16.45" fill="#c3ff3c"/>
<rect x="196.00" y="521.93" width="16.44" height="16.45" fill="#9aff65"/>
<rect x="211.24" y="521.93" width="16.44" height="16.45" fill="#6dff92"/>
<rect x="226.48" y="521.93" width="16.44" height="16.45" fill="#3fffc0"/>
<rect x="241.72" y="521.93" width="16.44" height="16.45" fill="#11ffee"/>
<rect x="256.96" y="521.93" width="16.44" height="16.45" fill="#00e3ff"/>
<rect x="272.20" y="521.93" width="16.44" height="16.45" fill="#00c5ff"/>
<rect x="287.43" y="521.93" width="16.44" height="16.45" fill="#009bff"/>
<rect x="302.67" y="521.93" width="16.44" height="16.45" fill="#007dff"/>
<rect x="317.91" y="521.93" width="16.44" height="16.45" fill="#005eff"/>
<rect x="333.15" y="521.93" width="16.44" height="16.45" fill="#0040ff"/>
<rect x="348.39" y="521.93" width="16.44" height="16.45" fill="#0022ff"/>
<rect x="363.62" y="521.93" width="16.44" height="16.45" fill="#0008ff"/>
<rect x="378.86" y="521.93" width="16.44" height="16.45" fill="#0000f6"/>
<rect x="72.10" y="537.18" width="18.44" height="16.45" fill="#ffbd00"/>
<rect x="89.34" y="537.18" width="16.44" height="16.45" fill="#ffbd00"/>
<rect x="104.58" y="537.18" width="16.44" height="16.45" fill="#ffb800"/>
<rect x="119.81" y="537.18" width="16.44" height="16.45" fill="#ffc200"/>
<rect x="135.05" y="537.18" width="16.44" height="16.45" fill="#ffd100"/>
<rect x="150.29" y="537.18" width="16.44" height="16.45" fill="#fff000"/>
<rect x="165.53" y="537.18" width="16.44" height="16.45" fill="#ebff14"/>
<rect x="180.77" y="537.18" width="16.44" height="16.45" fill="#c7ff38"/>
<rect x="196.00" y="537.18" width="16.44" height="16.45" fill="#9eff61"/>
<rect x="211.24" y="537.18" width="16.44" height="16.45" fill="#70ff8f"/>
<rect x="226.48" y="537.18" width="16.44" height="16.45" fill="#42ffbd"/>
<rect x="241.72" y="537.18" width="16.44" height="16.45" fill="#14ffeb"/>
<rect x="256.96" y="537.18" width="16.44" height="16.45" fill="#00e5ff"/>
<rect x="272.20" y="537.18" width="16.44" height="16.45" fill="#00c7ff"/>
<rect x="287.43" y="537.18" width="16.44" height="16.45" fill="#009eff"/>
<rect x="302.67" y="537.18" width="16.44" height="16.45" fill="#0080ff"/>
<rect x="317.91" y="537.18" width="16.44" height="16.45" fill="#0061ff"/>
<rect x="333.15" y="537.18" width="16.44" height="16.45" fill="#0042ff"/>
<rect x="348.39" y="537.18" width="16.44" height="16.45" fill="#0024ff"/>
<rect x="363.62" y="537.18" width="16.44" height="16.45" fill="#000aff"/>
<rect x="378.86" y="537.18" width="16.44" height="16.45" fill="#0000fa"/>
<rect x="72.10" y="552.44" width="18.44" height="16.45" fill="#ffb800"/>
<rect x="89.34" y="552.44" width="16.44" height="16.45" fill="#ffb300"/>
<rect x="104.58" y="552.44" width="16.44" height="16.45" fill="#ffaf00"/>
<rect x="119.81" y="552.44" width="16.44" height="16.45" fill="#ffb800"/>
<rect x="135.05" y="552.44" width="16.44" height="16.45" fill="#ffca00"/>
<rect x="150.29" y="552.44" width="16.44" height="16.45" fill="#ffeb00"/>
<rect x="165.53" y="552.44" width="16.44" height="16.45" fill="#f0ff0f"/>
<rect x="180.77" y="552.44" width="16.44" height="16.45" fill="#caff35"/>
<rect x="196.00" y="552.44" width="16.44" height="16.45" fill="#a0ff5f"/>
<rect x="211.24" y="552.44" width="16.44" height="16.45" fill="#72ff8d"/>
<rect x="226.48" y="552.44" width="16.44" height="16.45" fill="#42ffbd"/>
<rect x="241.72" y="552.44" width="16.44" height="16.45" fill="#16ffe9"/>
<rect x="256.96" y="552.44" width="16.44" height="16.45" fill="#00eeff"/>
<rect x="272.20" y="552.44" width="16.44" height="16.45" fill="#00ccff"/>
<rect x="287.43" y="552.44" width="16.44" height="16.45" fill="#00a3ff"/>
<rect x="302.67" y="552.44" width="16.44" height="16.45" fill="#0085ff"/>
<rect x="317.91" y="552.44" width="16.44" height="16.45" fill="#0064ff"/>
<rect x="333.15" y="552.44" width="16.44" height="16.45" fill="#0046ff"/>
<rect x="348.39" y="552.44" width="16.44" height="16.45" fill="#0025ff"/>
<rect x="363.62" y="552.44" width="16.44" height="16.45" fill="#000cff"/>
<rect x="378.86" y="552.44" width="16.44" height="16.45" fill="#0000fa"/>
<rect x="72.10" y="567.69" width="18.44" height="16.45" fill="#ffb300"/>
<rect x="89.34" y="567.69" width="16.44" height="16.45" fill="#ffa800"/>
<rect x="104.58" y="567.69" width="16.44" height="16.45" fill="#ffa700"/>
<rect x="119.81" y="567.69" width="16.44" height="16.45" fill="#ffad00"/>
<rect x="135.05" y="567.69" width="16.44" height="16.45" fill="#ffc300"/>
<rect x="150.29" y="567.69" width="16.44" height="16.45" fill="#ffe500"/>
<rect x="165.53" y="567.69" width="16.44" height="16.45" fill="#f5ff0a"/>
<rect x="180.77" y="567.69" width="16.44" height="16.45" fill="#ceff31"/>
<rect x="196.00" y="567.69" width="16.44" height="16.45" fill="#a2ff5e"/>
<rect x="211.24" y="567.69" width="16.44" height="16.45" fill="#74ff8b"/>
<rect x="226.48" y="567.69" width="16.44" height="16.45" fill="#42ffbd"/>
<rect x="241.72" y="567.69" width="16.44" height="16.45" fill="#18ffe7"/>
<rect x="256.96" y="567.69" width="16.44" height="16.45" fill="#00f6ff"/>
<rect x="272.20" y="567.69" width="16.44" height="16.45" fill="#00d1ff"/>
<rect x="287.43" y="567.69" width="16.44" height="16.45" fill="#00a8ff"/>
<rect x="302.67" y="567.69" width="16.44" height="16.45" fill="#008aff"/>
<rect x="317.91" y="567.69" width="16.44" height="16.45" fill="#0068ff"/>
<rect x="333.15" y="567.69" width="16.44" height="16.45" fill="#0049ff"/>
<rect x="348.39" y="567.69" width="16.44" height="16.45" fill="#0027ff"/>
<rect x="363.62" y="567.69" width="16.44" height="16.45" fill="#000eff"/>
<rect x="378.86" y="567.69" width="16.44" height="16.45" fill="#0000fa"/>
<rect x="72.10" y="582.95" width="18.44" height="16.45" fill="#ffad00"/>
<rect x="89.34" y="582.95" width="16.44" height="16.45" fill="#ff9e00"/>
<rect x="104.58" y="582.95" width="16.44" height="16.45" fill="#ff9e00"/>
<rect x="119.81" y="582.95" width="16.44" height="16.45" fill="#ffa300"/>
<rect x="135.05" y="582.95" width="16.44" height="16.45" fill="#ffbd00"/>
<rect x="150.29" y="582.95" width="16.44" height="16.45" fill="#ffe000"/>
<rect x="165.53" y="582.95" width="16.44" height="16.45" fill="#faff05"/>
<rect x="180.77" y="582.95" width="16.44" height="16.45" fill="#d1ff2e"/>
<rect x="196.00" y="582.95" width="16.44" height="16.45" fill="#a3ff5c"/>
<rect x="211.24" y="582.95" width="16.44" height="16.45" fill="#75ff8a"/>
<rect x="226.48" y="582.95" width="16.44" height="16.45" fill="#42ffbd"/>
<rect x="241.72" y="582.95" width="16.44" height="16.45" fill="#1affe5"/>
<rect x="256.96" y="582.95" width="16.44" height="16.45" fill="#00ffff"/>
<rect x="272.20" y="582.95" width="16.44" height="16.45" fill="#00d6ff"/>
<rect x="287.43" y="582.95" width="16.44" height="16.45" fill="#00adff"/>
<rect x="302.67" y="582.95" width="16.44" height="16.45" fill="#008fff"/>
<rect x="317.91" y="582.95" width="16.44" height="16.45" fill="#006bff"/>
<rect x="333.15" y="582.95" width="16.44" height="16.45" fill="#004dff"/>
<rect x="348.39" y="582.95" width="16.44" height="16.45" fill="#0029ff"/>
<rect x="363.62" y="582.95" width="16.44" height="16.45" fill="#000fff"/>
<rect x="378.86" y="582.95" width="16.44" height="16.45" fill="#0000fa"/>
<rect x="72.10" y="598.20" width="18.44" height="16.45" fill="#ffaa00"/>
<rect x="89.34" y="598.20" width="16.44" height="16.45" fill="#ff9700"/>
<rect x="104.58" y="598.20" width="16.44" height="16.45" fill="#ff9200"/>
<rect x="119.81" y="598.20" width="16.44" height="16.45" fill="#ff9c00"/>
<rect x="135.05" y="598.20" width="16.44" height="16.45" fill="#ffb600"/>
<rect x="150.29" y="598.20" width="16.44" height="16.45" fill="#ffd600"/>
<rect x="165.53" y="598.20" width="16.44" height="16.45" fill="#fffc00"/>
<rect x="180.77" y="598.20" width="16.44" height="16.45" fill="#d6ff29"/>
<rect x="196.00" y="598.20" width="16.44" height="16.45" fill="#aaff55"/>
<rect x="211.24" y="598.20" width="16.44" height="16.45" fill="#79ff86"/>
<rect x="226.48" y="598.20" width="16.44" height="16.45" fill="#46ffb9"/>
<rect x="241.72" y="598.20" width="16.44" height="16.45" fill="#1dffe2"/>
<rect x="256.96" y="598.20" width="16.44" height="16.45" fill="#00ffff"/>
<rect x="272.20" y="598.20" width="16.44" height="16.45" fill="#00daff"/>
<rect x="287.43" y="598.20" width="16.44" height="16.45" fill="#00b1ff"/>
<rect x="302.67" y="598.20" width="16.44" height="16.45" fill="#0090ff"/>
<rect x="317.91" y="598.20" width="16.44" height="16.45" fill="#006dff"/>
<rect x="333.15" y="598.20" width="16.44" height="16.45" fill="#0050ff"/>
<rect x="348.39" y="598.20" width="16.44" height="16.45" fill="#002cff"/>
<rect x="363.62" y="598.20" width="16.44" height="16.45" fill="#0013ff"/>
<rect x="378.86" y="598.20" width="16.44" height="16.45" fill="#0000ff"/>
<rect x="72.10" y="613.46" width="18.44" height="16.45" fill="#ffa700"/>
<rect x="89.34" y="613.46" width="16.44" height="16.45" fill="#ff9100"/>
<rect x="104.58" y="613.46" width="16.44" height="16.45" fill="#ff8600"/>
<rect x="119.81" y="613.46" width="16.44" height="16.45" fill="#ff9600"/>
<rect x="135.05" y="613.46" width="16.44" height="16.45" fill="#ffaf00"/>
<rect x="150.29" y="613.46" width="16.44" height="16.45" fill="#ffcc00"/>
<rect x="165.53" y="613.46" width="16.44" height="16.45" fill="#fff300"/>
<rect x="180.77" y="613.46" width="16.44" height="16.45" fill="#dbff24"/>
<rect x="196.00" y="613.46" width="16.44" height="16.45" fill="#b1ff4e"/>
<rect x="211.24" y="613.46" width="16.44" height="16.45" fill="#7cff83"/>
<rect x="226.48" y="613.46" width="16.44" height="16.45" fill="#49ffb6"/>
<rect x="241.72" y="613.46" width="16.44" height="16.45" fill="#20ffdf"/>
<rect x="256.96" y="613.46" width="16.44" height="16.45" fill="#00ffff"/>
<rect x="272.20" y="613.46" width="16.44" height="16.45" fill="#00ddff"/>
<rect x="287.43" y="613.46" width="16.44" height="16.45" fill="#00b4ff"/>
<rect x="302.67" y="613.46" width="16.44" height="16.45" fill="#0092ff"/>
<rect x="317.91" y="613.46" width="16.44" height="16.45" fill="#006eff"/>
<rect x="333.15" y="613.46" width="16.44" height="16.45" fill="#0053ff"/>
<rect x="348.39" y="613.46" width="16.44" height="16.45" fill="#0030ff"/>
<rect x="363.62" y="613.46" width="16.44" height="16.45" fill="#0016ff"/>
<rect x="378.86" y="613.46" width="16.44" height="16.45" fill="#0005ff"/>
<rect x="72.10" y="628.71" width="18.44" height="16.45" fill="#ffa300"/>
<rect x="89.34" y="628.71" width="16.44" height="16.45" fill="#ff8a00"/>
<rect x="104.58" y="628.71" width="16.44" height="16.45" fill="#ff7a00"/>
<rect x="119.81" y="628.71" width="16.44" height="16.45" fill="#ff8f00"/>
<rect x="135.05" y="628.71" width="16.44" height="16.45" fill="#ffa800"/>
<rect x="150.29" y="628.71" width="16.44" height="16.45" fill="#ffc200"/>
<rect x="165.53" y="628.71" width="16.44" height="16.45" fill="#ffeb00"/>
<rect x="180.77" y="628.71" width="16.44" height="16.45" fill="#e0ff1f"/>
<rect x="196.00" y="628.71" width="16.44" height="16.45" fill="#b8ff47"/>
<rect x="211.24" y="628.71" width="16.44" height="16.45" fill="#80ff80"/>
<rect x="226.48" y="628.71" width="16.44" height="16.45" fill="#4dffb2"/>
<rect x="241.72" y="628.71" width="16.44" height="16.45" fill="#24ffdb"/>
<rect x="256.96" y="628.71" width="16.44" height="16.45" fill="#00ffff"/>
<rect x="272.20" y="628.71" width="16.44" height="16.45" fill="#00e0ff"/>
<rect x="287.43" y="628.71" width="16.44" height="16.45" fill="#00b8ff"/>
<rect x="302.67" y="628.71" width="16.44" height="16.45" fill="#0094ff"/>
<rect x="317.91" y="628.71" width="16.44" height="16.45" fill="#0070ff"/>
<rect x="333.15" y="628.71" width="16.44" height="16.45" fill="#0057ff"/>
<rect x="348.39" y="628.71" width="16.44" height="16.45" fill="#0033ff"/>
<rect x="363.62" y="628.71" width="16.44" height="16.45" fill="#0019ff"/>
<rect x="378.86" y="628.71" width="16.44" height="16.45" fill="#000aff"/>
<rect x="72.10" y="643.97" width="18.44" height="16.45" fill="#ff9400"/>
<rect x="89.34" y="643.97" width="16.44" height="16.45" fill="#ff8000"/>
<rect x="104.58" y="643.97" width="16.44" height="16.45" fill="#ff7500"/>
<rect x="119.81" y="643.97" width="16.44" height="16.45" fill="#ff8000"/>
<rect x="135.05" y="643.97" width="16.44" height="16.45" fill="#ff9400"/>
<rect x="150.29" y="643.97" width="16.44" height="16.45" fill="#ffb300"/>
<rect x="165.53" y="643.97" width="16.44" height="16.45" fill="#ffe500"/>
<rect x="180.77" y="643.97" width="16.44" height="16.45" fill="#e5ff1a"/>
<rect x="196.00" y="643.97" width="16.44" height="16.45" fill="#bdff42"/>
<rect x="211.24" y="643.97" width="16.44" height="16.45" fill="#8fff70"/>
<rect x="226.48" y="643.97" width="16.44" height="16.45" fill="#61ff9e"/>
<rect x="241.72" y="643.97" width="16.44" height="16.45" fill="#3dffc2"/>
<rect x="256.96" y="643.97" width="16.44" height="16.45" fill="#05fffa"/>
<rect x="272.20" y="643.97" width="16.44" height="16.45" fill="#00e0ff"/>
<rect x="287.43" y="643.97" width="16.44" height="16.45" fill="#00b8ff"/>
<rect x="302.67" y="643.97" width="16.44" height="16.45" fill="#0099ff"/>
<rect x="317.91" y="643.97" width="16.44" height="16.45" fill="#006bff"/>
<rect x="333.15" y="643.97" width="16.44" height="16.45" fill="#005cff"/>
<rect x="348.39" y="643.97" width="16.44" height="16.45" fill="#0038ff"/>
<rect x="363.62" y="643.97" width="16.44" height="16.45" fill="#001fff"/>
<rect x="378.86" y="643.97" width="16.44" height="16.45" fill="#0014ff"/>
<rect x="72.10" y="659.22" width="18.44" height="16.45" fill="#ff8200"/>
<rect x="89.34" y="659.22" width="16.44" height="16.45" fill="#ff6e00"/>
<rect x="104.58" y="659.22" width="16.44" height="16.45" fill="#ff6600"/>
<rect x="119.81" y="659.22" width="16.44" height="16.45" fill="#ff7500"/>
<rect x="135.05" y="659.22" width="16.44" height="16.45" fill="#ff8c00"/>
<rect x="150.29" y="659.22" width="16.44" height="16.45" fill="#ffab00"/>
<rect x="165.53" y="659.22" width="16.44" height="16.45" fill="#ffdb00"/>
<rect x="180.77" y="659.22" width="16.44" height="16.45" fill="#f0ff0f"/>
<rect x="196.00" y="659.22" width="16.44" height="16.45" fill="#c4ff3b"/>
<rect x="211.24" y="659.22" width="16.44" height="16.45" fill="#94ff6b"/>
<rect x="226.48" y="659.22" width="16.44" height="16.45" fill="#66ff99"/>
<rect x="241.72" y="659.22" width="16.44" height="16.45" fill="#40ffbf"/>
<rect x="256.96" y="659.22" width="16.44" height="16.45" fill="#0dfff2"/>
<rect x="272.20" y="659.22" width="16.44" height="16.45" fill="#00e5ff"/>
<rect x="287.43" y="659.22" width="16.44" height="16.45" fill="#00baff"/>
<rect x="302.67" y="659.22" width="16.44" height="16.45" fill="#009cff"/>
<rect x="317.91" y="659.22" width="16.44" height="16.45" fill="#0075ff"/>
<rect x="333.15" y="659.22" width="16.44" height="16.45" fill="#0063ff"/>
<rect x="348.39" y="659.22" width="16.44" height="16.45" fill="#0042ff"/>
<rect x="363.62" y="659.22" width="16.44" height="16.45" fill="#0026ff"/>
<rect x="378.86" y="659.22" width="16.44" height="16.45" fill="#0019ff"/>
<rect x="72.10" y="674.48" width="18.44" height="16.45" fill="#ff7000"/>
<rect x="89.34" y="674.48" width="16.44" height="16.45" fill="#ff5c00"/>
<rect x="104.58" y="674.48" width="16.44" height="16.45" fill="#ff5700"/>
<rect x="119.81" y="674.48" width="16.44" height="16.45" fill="#ff6b00"/>
<rect x="135.05" y="674.48" width="16.44" height="16.45" fill="#ff8500"/>
<rect x="150.29" y="674.48" width="16.44" height="16.45" fill="#ffa300"/>
<rect x="165.53" y="674.48" width="16.44" height="16.45" fill="#ffd100"/>
<rect x="180.77" y="674.48" width="16.44" height="16.45" fill="#faff05"/>
<rect x="196.00" y="674.48" width="16.44" height="16.45" fill="#ccff33"/>
<rect x="211.24" y="674.48" width="16.44" height="16.45" fill="#99ff66"/>
<rect x="226.48" y="674.48" width="16.44" height="16.45" fill="#6bff94"/>
<rect x="241.72" y="674.48" width="16.44" height="16.45" fill="#42ffbd"/>
<rect x="256.96" y="674.48" width="16.44" height="16.45" fill="#14ffeb"/>
<rect x="272.20" y="674.48" width="16.44" height="16.45" fill="#00ebff"/>
<rect x="287.43" y="674.48" width="16.44" height="16.45" fill="#00bdff"/>
<rect x="302.67" y="674.48" width="16.44" height="16.45" fill="#009eff"/>
<rect x="317.91" y="674.48" width="16.44" height="16.45" fill="#0080ff"/>
<rect x="333.15" y="674.48" width="16.44" height="16.45" fill="#006bff"/>
<rect x="348.39" y="674.48" width="16.44" height="16.45" fill="#004dff"/>
<rect x="363.62" y="674.48" width="16.44" height="16.45" fill="#002eff"/>
<rect x="378.86" y="674.48" width="16.44" height="16.45" fill="#001fff"/>
<rect x="72.10" y="689.73" width="18.44" height="16.45" fill="#ff5e00"/>
<rect x="89.34" y="689.73" width="16.44" height="16.45" fill="#ff4700"/>
<rect x="104.58" y="689.73" width="16.44" height="16.45" fill="#ff4000"/>
<rect x="119.81" y="689.73" width="16.44" height="16.45" fill="#ff4f00"/>
<rect x="135.05" y="689.73" width="16.44" height="16.45" fill="#ff6b00"/>
<rect x="150.29" y="689.73" width="16.44" height="16.45" fill="#ff9c00"/>
<rect x="165.53" y="689.73" width="16.44" height="16.45" fill="#ffc700"/>
<rect x="180.77" y="689.73" width="16.44" height="16.45" fill="#fff200"/>
<rect x="196.00" y="689.73" width="16.44" height="16.45" fill="#d6ff29"/>
<rect x="211.24" y="689.73" width="16.44" height="16.45" fill="#a6ff59"/>
<rect x="226.48" y="689.73" width="16.44" height="16.45" fill="#80ff80"/>
<rect x="241.72" y="689.73" width="16.44" height="16.45" fill="#57ffa8"/>
<rect x="256.96" y="689.73" width="16.44" height="16.45" fill="#1fffe0"/>
<rect x="272.20" y="689.73" width="16.44" height="16.45" fill="#05fffa"/>
<rect x="287.43" y="689.73" width="16.44" height="16.45" fill="#00d6ff"/>
<rect x="302.67" y="689.73" width="16.44" height="16.45" fill="#00a8ff"/>
<rect x="317.91" y="689.73" width="16.44" height="16.45" fill="#008aff"/>
<rect x="333.15" y="689.73" width="16.44" height="16.45" fill="#0075ff"/>
<rect x="348.39" y="689.73" width="16.44" height="16.45" fill="#0052ff"/>
<rect x="363.62" y="689.73" width="16.44" height="16.45" fill="#0033ff"/>
<rect x="378.86" y="689.73" width="16.44" height="16.45" fill="#0024ff"/>
<rect x="72.10" y="704.99" width="18.44" height="16.45" fill="#ff4c00"/>
<rect x="89.34" y="704.99" width="16.44" height="16.45" fill="#ff3300"/>
<rect x="104.58" y="704.99" width="16.44" height="16.45" fill="#ff2900"/>
<rect x="119.81" y="704.99" width="16.44" height="16.45" fill="#ff3300"/>
<rect x="135.05" y="704.99" width="16.44" height="16.45" fill="#ff5200"/>
<rect x="150.29" y="704.99" width="16.44" height="16.45" fill="#ff9400"/>
<rect x="165.53" y="704.99" width="16.44" height="16.45" fill="#ffbd00"/>
<rect x="180.77" y="704.99" width="16.44" height="16.45" fill="#ffe000"/>
<rect x="196.00" y="704.99" width="16.44" height="16.45" fill="#e0ff1f"/>
<rect x="211.24" y="704.99" width="16.44" height="16.45" fill="#b3ff4c"/>
<rect x="226.48" y="704.99" width="16.44" height="16.45" fill="#94ff6b"/>
<rect x="241.72" y="704.99" width="16.44" height="16.45" fill="#6bff94"/>
<rect x="256.96" y="704.99" width="16.44" height="16.45" fill="#29ffd6"/>
<rect x="272.20" y="704.99" width="16.44" height="16.45" fill="#0afff5"/>
<rect x="287.43" y="704.99" width="16.44" height="16.45" fill="#00f5ff"/>
<rect x="302.67" y="704.99" width="16.44" height="16.45" fill="#00d1ff"/>
<rect x="317.91" y="704.99" width="16.44" height="16.45" fill="#00adff"/>
<rect x="333.15" y="704.99" width="16.44" height="16.45" fill="#008aff"/>
<rect x="348.39" y="704.99" width="16.44" height="16.45" fill="#0057ff"/>
<rect x="363.62" y="704.99" width="16.44" height="16.45" fill="#0038ff"/>
<rect x="378.86" y="704.99" width="16.44" height="16.45" fill="#0029ff"/>
<rect x="72.10" y="720.24" width="18.44" height="16.45" fill="#ff3300"/>
<rect x="89.34" y="720.24" width="16.44" height="16.45" fill="#ff1400"/>
<rect x="104.58" y="720.24" width="16.44" height="16.45" fill="#e50000"/>
<rect x="119.81" y="720.24" width="16.44" height="16.45" fill="#ff0a00"/>
<rect x="135.05" y="720.24" width="16.44" height="16.45" fill="#ff3d00"/>
<rect x="150.29" y="720.24" width="16.44" height="16.45" fill="#ff7500"/>
<rect x="165.53" y="720.24" width="16.44" height="16.45" fill="#ffa800"/>
<rect x="180.77" y="720.24" width="16.44" height="16.45" fill="#ffd600"/>
<rect x="196.00" y="720.24" width="16.44" height="16.45" fill="#fffa00"/>
<rect x="211.24" y="720.24" width="16.44" height="16.45" fill="#c7ff38"/>
<rect x="226.48" y="720.24" width="16.44" height="16.45" fill="#8aff75"/>
<rect x="241.72" y="720.24" width="16.44" height="16.45" fill="#61ff9e"/>
<rect x="256.96" y="720.24" width="16.44" height="16.45" fill="#29ffd6"/>
<rect x="272.20" y="720.24" width="16.44" height="16.45" fill="#0afff5"/>
<rect x="287.43" y="720.24" width="16.44" height="16.45" fill="#00e0ff"/>
<rect x="302.67" y="720.24" width="16.44" height="16.45" fill="#00b8ff"/>
<rect x="317.91" y="720.24" width="16.44" height="16.45" fill="#009eff"/>
<rect x="333.15" y="720.24" width="16.44" height="16.45" fill="#008aff"/>
<rect x="348.39" y="720.24" width="16.44" height="16.45" fill="#007aff"/>
<rect x="363.62" y="720.24" width="16.44" height="16.45" fill="#006bff"/>
<rect x="378.86" y="720.24" width="16.44" height="16.45" fill="#0047ff"/>
<rect x="72.10" y="735.50" width="18.44" height="16.45" fill="#f00000"/>
<rect x="89.34" y="735.50" width="16.44" height="16.45" fill="#850000"/>
<rect x="104.58" y="735.50" width="16.44" height="16.45" fill="#940000"/>
<rect x="119.81" y="735.50" width="16.44" height="16.45" fill="#f00000"/>
<rect x="135.05" y="735.50" width="16.44" height="16.45" fill="#ff6100"/>
<rect x="150.29" y="735.50" width="16.44" height="16.45" fill="#ff2900"/>
<rect x="165.53" y="735.50" width="16.44" height="16.45" fill="#ff8000"/>
<rect x="180.77" y="735.50" width="16.44" height="16.45" fill="#ff6100"/>
<rect x="196.00" y="735.50" width="16.44" height="16.45" fill="#ffa300"/>
<rect x="211.24" y="735.50" width="16.44" height="16.45" fill="#ffb300"/>
<rect x="226.48" y="735.50" width="16.44" height="16.45" fill="#ffb300"/>
<rect x="241.72" y="735.50" width="16.44" height="16.45" fill="#b3ff4c"/>
<rect x="256.96" y="735.50" width="16.44" height="16.45" fill="#61ff9e"/>
<rect x="272.20" y="735.50" width="16.44" height="16.45" fill="#0afff5"/>
<rect x="287.43" y="735.50" width="16.44" height="16.45" fill="#0000fa"/>
<rect x="302.67" y="735.50" width="16.44" height="16.45" fill="#0000c7"/>
<rect x="317.91" y="735.50" width="16.44" height="16.45" fill="#000085"/>
<rect x="333.15" y="735.50" width="16.44" height="16.45" fill="#00009e"/>
<rect x="348.39" y="735.50" width="16.44" height="16.45" fill="#0000b8"/>
<rect x="363.62" y="735.50" width="16.44" height="16.45" fill="#0000d6"/>
<rect x="378.86" y="735.50" width="16.44" height="16.45" fill="#0000b2"/>
</g>
<path d="M74.60 750.75v-11.5M114.10 750.75v-6.0M154.10 750.75v-6.0M194.10 750.75v-6.0M234.10 750.75v-11.5M274.10 750.75v-6.0M314.10 750.75v-6.0M354.10 750.75v-6.0M393.60 750.75v-11.5M74.10 430.90h11.5M74.10 470.84h6.0M74.10 510.89h6.0M74.10 550.93h6.0M74.10 590.98h11.5M74.10 631.02h6.0M74.10 671.06h6.0M74.10 711.11h6.0M74.10 750.25h11.5" stroke="#262626" stroke-width="1" fill="none" opacity="0.65"/>
<rect x="211.34" y="520.58" width="15.35" height="16.05" fill="none" stroke="#000000" stroke-width="2.65"/>
<path d="M74.40 430.40V750.45H394.10" stroke="#262626" stroke-width="0.8" fill="none" opacity="0.45"/>
<text class="t" x="234.6" y="418.0" text-anchor="middle">Slope (m)</text>
<text class="a" x="66.1" y="437.1" text-anchor="end">1000</text>
<text class="a" x="66.1" y="597.3" text-anchor="end">500</text>
<text class="a" x="66.1" y="757.5" text-anchor="end">1</text>
<text class="a" x="74.6" y="767.8" text-anchor="middle">0</text>
<text class="a" x="234.6" y="767.8" text-anchor="middle">10</text>
<text class="a" x="394.6" y="767.8" text-anchor="middle">20</text>
<text class="a" x="234.4" y="785.6" text-anchor="middle">Noise [%]</text>
<text class="a" transform="translate(18.1 590.6) rotate(-90)" text-anchor="middle">Number of Fits</text>
<rect x="467.25" y="430.65" width="33.60" height="320.10" fill="url(#jet)"/>
<path d="M467.75 430.40v320.35M467.25 430.90h5.0M467.25 436.90h5.0M467.25 442.90h5.0M467.25 448.90h5.0M467.25 454.90h5.0M467.25 460.90h9.0M467.25 466.90h5.0M467.25 472.90h5.0M467.25 478.90h5.0M467.25 484.90h5.0M467.25 490.90h5.0M467.25 496.90h5.0M467.25 502.90h5.0M467.25 508.90h5.0M467.25 514.90h5.0M467.25 520.90h9.0M467.25 526.90h5.0M467.25 532.90h5.0M467.25 538.90h5.0M467.25 544.90h5.0M467.25 550.90h5.0M467.25 556.90h5.0M467.25 562.90h5.0M467.25 568.90h5.0M467.25 574.90h5.0M467.25 580.90h9.0M467.25 586.90h5.0M467.25 592.90h5.0M467.25 598.90h5.0M467.25 604.90h5.0M467.25 610.90h5.0M467.25 616.90h5.0M467.25 622.90h5.0M467.25 628.90h5.0M467.25 634.90h5.0M467.25 640.90h9.0M467.25 646.90h5.0M467.25 652.90h5.0M467.25 658.90h5.0M467.25 664.90h5.0M467.25 670.90h5.0M467.25 676.90h5.0M467.25 682.90h5.0M467.25 688.90h5.0M467.25 694.90h5.0M467.25 700.90h9.0M467.25 706.90h5.0M467.25 712.90h5.0M467.25 718.90h5.0M467.25 724.90h5.0M467.25 730.90h5.0M467.25 736.90h5.0M467.25 742.90h5.0M467.25 748.90h5.0" stroke="#000" stroke-width="1" fill="none"/>
<text class="c" x="461.1" y="465.4" text-anchor="end">0.9</text>
<text class="c" x="461.1" y="525.4" text-anchor="end">0.8</text>
<text class="c" x="461.1" y="585.4" text-anchor="end">0.7</text>
<text class="c" x="461.1" y="645.4" text-anchor="end">0.6</text>
<text class="c" x="461.1" y="705.4" text-anchor="end">0.5</text>
<clipPath id="c3"><rect x="593.10" y="430.40" width="320.00" height="320.35"/></clipPath>
<g clip-path="url(#c3)">
<rect x="591.10" y="428.40" width="18.44" height="18.45" fill="#0afff5"/>
<rect x="608.34" y="428.40" width="16.44" height="18.45" fill="#14ffeb"/>
<rect x="623.58" y="428.40" width="16.44" height="18.45" fill="#1fffe0"/>
<rect x="638.81" y="428.40" width="16.44" height="18.45" fill="#29ffd6"/>
<rect x="654.05" y="428.40" width="16.44" height="18.45" fill="#38ffc7"/>
<rect x="669.29" y="428.40" width="16.44" height="18.45" fill="#4dffb2"/>
<rect x="684.53" y="428.40" width="16.44" height="18.45" fill="#61ff9e"/>
<rect x="699.77" y="428.40" width="16.44" height="18.45" fill="#80ff80"/>
<rect x="715.00" y="428.40" width="16.44" height="18.45" fill="#a3ff5c"/>
<rect x="730.24" y="428.40" width="16.44" height="18.45" fill="#c7ff38"/>
<rect x="745.48" y="428.40" width="16.44" height="18.45" fill="#ebff14"/>
<rect x="760.72" y="428.40" width="16.44" height="18.45" fill="#fff000"/>
<rect x="775.96" y="428.40" width="16.44" height="18.45" fill="#ffd600"/>
<rect x="791.20" y="428.40" width="16.44" height="18.45" fill="#ffbd00"/>
<rect x="806.43" y="428.40" width="16.44" height="18.45" fill="#ff9e00"/>
<rect x="821.67" y="428.40" width="16.44" height="18.45" fill="#ff8a00"/>
<rect x="836.91" y="428.40" width="16.44" height="18.45" fill="#ff7000"/>
<rect x="852.15" y="428.40" width="16.44" height="18.45" fill="#ff6100"/>
<rect x="867.39" y="428.40" width="16.44" height="18.45" fill="#ff4c00"/>
<rect x="882.62" y="428.40" width="16.44" height="18.45" fill="#ff3d00"/>
<rect x="897.86" y="428.40" width="16.44" height="18.45" fill="#ff2e00"/>
<rect x="591.10" y="445.65" width="18.44" height="16.45" fill="#05fffa"/>
<rect x="608.34" y="445.65" width="16.44" height="16.45" fill="#0efff1"/>
<rect x="623.58" y="445.65" width="16.44" height="16.45" fill="#18ffe7"/>
<rect x="638.81" y="445.65" width="16.44" height="16.45" fill="#24ffdb"/>
<rect x="654.05" y="445.65" width="16.44" height="16.45" fill="#35ffca"/>
<rect x="669.29" y="445.65" width="16.44" height="16.45" fill="#49ffb6"/>
<rect x="684.53" y="445.65" width="16.44" height="16.45" fill="#5fffa0"/>
<rect x="699.77" y="445.65" width="16.44" height="16.45" fill="#7eff81"/>
<rect x="715.00" y="445.65" width="16.44" height="16.45" fill="#a2ff5e"/>
<rect x="730.24" y="445.65" width="16.44" height="16.45" fill="#c5ff3a"/>
<rect x="745.48" y="445.65" width="16.44" height="16.45" fill="#ebff14"/>
<rect x="760.72" y="445.65" width="16.44" height="16.45" fill="#fff300"/>
<rect x="775.96" y="445.65" width="16.44" height="16.45" fill="#ffd600"/>
<rect x="791.20" y="445.65" width="16.44" height="16.45" fill="#ffbd00"/>
<rect x="806.43" y="445.65" width="16.44" height="16.45" fill="#ffa000"/>
<rect x="821.67" y="445.65" width="16.44" height="16.45" fill="#ff8a00"/>
<rect x="836.91" y="445.65" width="16.44" height="16.45" fill="#ff7200"/>
<rect x="852.15" y="445.65" width="16.44" height="16.45" fill="#ff6100"/>
<rect x="867.39" y="445.65" width="16.44" height="16.45" fill="#ff4e00"/>
<rect x="882.62" y="445.65" width="16.44" height="16.45" fill="#ff3f00"/>
<rect x="897.86" y="445.65" width="16.44" height="16.45" fill="#ff3000"/>
<rect x="591.10" y="460.91" width="18.44" height="16.45" fill="#00ffff"/>
<rect x="608.34" y="460.91" width="16.44" height="16.45" fill="#07fff8"/>
<rect x="623.58" y="460.91" width="16.44" height="16.45" fill="#11ffee"/>
<rect x="638.81" y="460.91" width="16.44" height="16.45" fill="#1fffe0"/>
<rect x="654.05" y="460.91" width="16.44" height="16.45" fill="#31ffce"/>
<rect x="669.29" y="460.91" width="16.44" height="16.45" fill="#46ffb9"/>
<rect x="684.53" y="460.91" width="16.44" height="16.45" fill="#5effa2"/>
<rect x="699.77" y="460.91" width="16.44" height="16.45" fill="#7cff83"/>
<rect x="715.00" y="460.91" width="16.44" height="16.45" fill="#a0ff5f"/>
<rect x="730.24" y="460.91" width="16.44" height="16.45" fill="#c3ff3c"/>
<rect x="745.48" y="460.91" width="16.44" height="16.45" fill="#ebff14"/>
<rect x="760.72" y="460.91" width="16.44" height="16.45" fill="#fff700"/>
<rect x="775.96" y="460.91" width="16.44" height="16.45" fill="#ffd600"/>
<rect x="791.20" y="460.91" width="16.44" height="16.45" fill="#ffbd00"/>
<rect x="806.43" y="460.91" width="16.44" height="16.45" fill="#ffa200"/>
<rect x="821.67" y="460.91" width="16.44" height="16.45" fill="#ff8a00"/>
<rect x="836.91" y="460.91" width="16.44" height="16.45" fill="#ff7400"/>
<rect x="852.15" y="460.91" width="16.44" height="16.45" fill="#ff6100"/>
<rect x="867.39" y="460.91" width="16.44" height="16.45" fill="#ff5000"/>
<rect x="882.62" y="460.91" width="16.44" height="16.45" fill="#ff4100"/>
<rect x="897.86" y="460.91" width="16.44" height="16.45" fill="#ff3100"/>
<rect x="591.10" y="476.16" width="18.44" height="16.45" fill="#00faff"/>
<rect x="608.34" y="476.16" width="16.44" height="16.45" fill="#00ffff"/>
<rect x="623.58" y="476.16" width="16.44" height="16.45" fill="#0afff5"/>
<rect x="638.81" y="476.16" width="16.44" height="16.45" fill="#1affe5"/>
<rect x="654.05" y="476.16" width="16.44" height="16.45" fill="#2effd1"/>
<rect x="669.29" y="476.16" width="16.44" height="16.45" fill="#42ffbd"/>
<rect x="684.53" y="476.16" width="16.44" height="16.45" fill="#5cffa3"/>
<rect x="699.77" y="476.16" width="16.44" height="16.45" fill="#7aff85"/>
<rect x="715.00" y="476.16" width="16.44" height="16.45" fill="#9eff61"/>
<rect x="730.24" y="476.16" width="16.44" height="16.45" fill="#c2ff3d"/>
<rect x="745.48" y="476.16" width="16.44" height="16.45" fill="#ebff14"/>
<rect x="760.72" y="476.16" width="16.44" height="16.45" fill="#fffa00"/>
<rect x="775.96" y="476.16" width="16.44" height="16.45" fill="#ffd600"/>
<rect x="791.20" y="476.16" width="16.44" height="16.45" fill="#ffbd00"/>
<rect x="806.43" y="476.16" width="16.44" height="16.45" fill="#ffa300"/>
<rect x="821.67" y="476.16" width="16.44" height="16.45" fill="#ff8a00"/>
<rect x="836.91" y="476.16" width="16.44" height="16.45" fill="#ff7500"/>
<rect x="852.15" y="476.16" width="16.44" height="16.45" fill="#ff6100"/>
<rect x="867.39" y="476.16" width="16.44" height="16.45" fill="#ff5200"/>
<rect x="882.62" y="476.16" width="16.44" height="16.45" fill="#ff4200"/>
<rect x="897.86" y="476.16" width="16.44" height="16.45" fill="#ff3300"/>
<rect x="591.10" y="491.42" width="18.44" height="16.45" fill="#00f3ff"/>
<rect x="608.34" y="491.42" width="16.44" height="16.45" fill="#00faff"/>
<rect x="623.58" y="491.42" width="16.44" height="16.45" fill="#05fffa"/>
<rect x="638.81" y="491.42" width="16.44" height="16.45" fill="#11ffee"/>
<rect x="654.05" y="491.42" width="16.44" height="16.45" fill="#27ffd8"/>
<rect x="669.29" y="491.42" width="16.44" height="16.45" fill="#3dffc2"/>
<rect x="684.53" y="491.42" width="16.44" height="16.45" fill="#58ffa7"/>
<rect x="699.77" y="491.42" width="16.44" height="16.45" fill="#79ff86"/>
<rect x="715.00" y="491.42" width="16.44" height="16.45" fill="#9bff64"/>
<rect x="730.24" y="491.42" width="16.44" height="16.45" fill="#c0ff3f"/>
<rect x="745.48" y="491.42" width="16.44" height="16.45" fill="#e7ff18"/>
<rect x="760.72" y="491.42" width="16.44" height="16.45" fill="#fffd00"/>
<rect x="775.96" y="491.42" width="16.44" height="16.45" fill="#ffda00"/>
<rect x="791.20" y="491.42" width="16.44" height="16.45" fill="#ffbe00"/>
<rect x="806.43" y="491.42" width="16.44" height="16.45" fill="#ffa500"/>
<rect x="821.67" y="491.42" width="16.44" height="16.45" fill="#ff8b00"/>
<rect x="836.91" y="491.42" width="16.44" height="16.45" fill="#ff7700"/>
<rect x="852.15" y="491.42" width="16.44" height="16.45" fill="#ff6300"/>
<rect x="867.39" y="491.42" width="16.44" height="16.45" fill="#ff5300"/>
<rect x="882.62" y="491.42" width="16.44" height="16.45" fill="#ff4600"/>
<rect x="897.86" y="491.42" width="16.44" height="16.45" fill="#ff3600"/>
<rect x="591.10" y="506.67" width="18.44" height="16.45" fill="#00ecff"/>
<rect x="608.34" y="506.67" width="16.44" height="16.45" fill="#00f5ff"/>
<rect x="623.58" y="506.67" width="16.44" height="16.45" fill="#00ffff"/>
<rect x="638.81" y="506.67" width="16.44" height="16.45" fill="#09fff6"/>
<rect x="654.05" y="506.67" width="16.44" height="16.45" fill="#20ffdf"/>
<rect x="669.29" y="506.67" width="16.44" height="16.45" fill="#38ffc7"/>
<rect x="684.53" y="506.67" width="16.44" height="16.45" fill="#55ffaa"/>
<rect x="699.77" y="506.67" width="16.44" height="16.45" fill="#77ff88"/>
<rect x="715.00" y="506.67" width="16.44" height="16.45" fill="#97ff68"/>
<rect x="730.24" y="506.67" width="16.44" height="16.45" fill="#beff41"/>
<rect x="745.48" y="506.67" width="16.44" height="16.45" fill="#e4ff1b"/>
<rect x="760.72" y="506.67" width="16.44" height="16.45" fill="#fdff02"/>
<rect x="775.96" y="506.67" width="16.44" height="16.45" fill="#ffdd00"/>
<rect x="791.20" y="506.67" width="16.44" height="16.45" fill="#ffc000"/>
<rect x="806.43" y="506.67" width="16.44" height="16.45" fill="#ffa700"/>
<rect x="821.67" y="506.67" width="16.44" height="16.45" fill="#ff8d00"/>
<rect x="836.91" y="506.67" width="16.44" height="16.45" fill="#ff7900"/>
<rect x="852.15" y="506.67" width="16.44" height="16.45" fill="#ff6400"/>
<rect x="867.39" y="506.67" width="16.44" height="16.45" fill="#ff5500"/>
<rect x="882.62" y="506.67" width="16.44" height="16.45" fill="#ff4900"/>
<rect x="897.86" y="506.67" width="16.44" height="16.45" fill="#ff3a00"/>
<rect x="591.10" y="521.93" width="18.44" height="16.45" fill="#00e5ff"/>
<rect x="608.34" y="521.93" width="16.44" height="16.45" fill="#00f0ff"/>
<rect x="623.58" y="521.93" width="16.44" height="16.45" fill="#00faff"/>
<rect x="638.81" y="521.93" width="16.44" height="16.45" fill="#00ffff"/>
<rect x="654.05" y="521.93" width="16.44" height="16.45" fill="#1affe5"/>
<rect x="669.29" y="521.93" width="16.44" height="16.45" fill="#33ffcc"/>
<rect x="684.53" y="521.93" width="16.44" height="16.45" fill="#52ffad"/>
<rect x="699.77" y="521.93" width="16.44" height="16.45" fill="#75ff8a"/>
<rect x="715.00" y="521.93" width="16.44" height="16.45" fill="#94ff6b"/>
<rect x="730.24" y="521.93" width="16.44" height="16.45" fill="#bdff42"/>
<rect x="745.48" y="521.93" width="16.44" height="16.45" fill="#e0ff1f"/>
<rect x="760.72" y="521.93" width="16.44" height="16.45" fill="#faff05"/>
<rect x="775.96" y="521.93" width="16.44" height="16.45" fill="#ffe000"/>
<rect x="791.20" y="521.93" width="16.44" height="16.45" fill="#ffc200"/>
<rect x="806.43" y="521.93" width="16.44" height="16.45" fill="#ffa800"/>
<rect x="821.67" y="521.93" width="16.44" height="16.45" fill="#ff8f00"/>
<rect x="836.91" y="521.93" width="16.44" height="16.45" fill="#ff7a00"/>
<rect x="852.15" y="521.93" width="16.44" height="16.45" fill="#ff6600"/>
<rect x="867.39" y="521.93" width="16.44" height="16.45" fill="#ff5700"/>
<rect x="882.62" y="521.93" width="16.44" height="16.45" fill="#ff4c00"/>
<rect x="897.86" y="521.93" width="16.44" height="16.45" fill="#ff3d00"/>
<rect x="591.10" y="537.18" width="18.44" height="16.45" fill="#00deff"/>
<rect x="608.34" y="537.18" width="16.44" height="16.45" fill="#00e5ff"/>
<rect x="623.58" y="537.18" width="16.44" height="16.45" fill="#00f0ff"/>
<rect x="638.81" y="537.18" width="16.44" height="16.45" fill="#00faff"/>
<rect x="654.05" y="537.18" width="16.44" height="16.45" fill="#0ffff0"/>
<rect x="669.29" y="537.18" width="16.44" height="16.45" fill="#2bffd4"/>
<rect x="684.53" y="537.18" width="16.44" height="16.45" fill="#4affb5"/>
<rect x="699.77" y="537.18" width="16.44" height="16.45" fill="#6bff94"/>
<rect x="715.00" y="537.18" width="16.44" height="16.45" fill="#8fff70"/>
<rect x="730.24" y="537.18" width="16.44" height="16.45" fill="#b5ff4a"/>
<rect x="745.48" y="537.18" width="16.44" height="16.45" fill="#dbff24"/>
<rect x="760.72" y="537.18" width="16.44" height="16.45" fill="#f7ff08"/>
<rect x="775.96" y="537.18" width="16.44" height="16.45" fill="#ffe500"/>
<rect x="791.20" y="537.18" width="16.44" height="16.45" fill="#ffc900"/>
<rect x="806.43" y="537.18" width="16.44" height="16.45" fill="#ffb000"/>
<rect x="821.67" y="537.18" width="16.44" height="16.45" fill="#ff9600"/>
<rect x="836.91" y="537.18" width="16.44" height="16.45" fill="#ff8000"/>
<rect x="852.15" y="537.18" width="16.44" height="16.45" fill="#ff6b00"/>
<rect x="867.39" y="537.18" width="16.44" height="16.45" fill="#ff5c00"/>
<rect x="882.62" y="537.18" width="16.44" height="16.45" fill="#ff4f00"/>
<rect x="897.86" y="537.18" width="16.44" height="16.45" fill="#ff4000"/>
<rect x="591.10" y="552.44" width="18.44" height="16.45" fill="#00d6ff"/>
<rect x="608.34" y="552.44" width="16.44" height="16.45" fill="#00dbff"/>
<rect x="623.58" y="552.44" width="16.44" height="16.45" fill="#00e5ff"/>
<rect x="638.81" y="552.44" width="16.44" height="16.45" fill="#00f5ff"/>
<rect x="654.05" y="552.44" width="16.44" height="16.45" fill="#05fffa"/>
<rect x="669.29" y="552.44" width="16.44" height="16.45" fill="#24ffdb"/>
<rect x="684.53" y="552.44" width="16.44" height="16.45" fill="#42ffbd"/>
<rect x="699.77" y="552.44" width="16.44" height="16.45" fill="#61ff9e"/>
<rect x="715.00" y="552.44" width="16.44" height="16.45" fill="#8aff75"/>
<rect x="730.24" y="552.44" width="16.44" height="16.45" fill="#adff52"/>
<rect x="745.48" y="552.44" width="16.44" height="16.45" fill="#d6ff29"/>
<rect x="760.72" y="552.44" width="16.44" height="16.45" fill="#f5ff0a"/>
<rect x="775.96" y="552.44" width="16.44" height="16.45" fill="#ffeb00"/>
<rect x="791.20" y="552.44" width="16.44" height="16.45" fill="#ffd100"/>
<rect x="806.43" y="552.44" width="16.44" height="16.45" fill="#ffb800"/>
<rect x="821.67" y="552.44" width="16.44" height="16.45" fill="#ff9e00"/>
<rect x="836.91" y="552.44" width="16.44" height="16.45" fill="#ff8500"/>
<rect x="852.15" y="552.44" width="16.44" height="16.45" fill="#ff7000"/>
<rect x="867.39" y="552.44" width="16.44" height="16.45" fill="#ff6100"/>
<rect x="882.62" y="552.44" width="16.44" height="16.45" fill="#ff5200"/>
<rect x="897.86" y="552.44" width="16.44" height="16.45" fill="#ff4200"/>
<rect x="591.10" y="567.69" width="18.44" height="16.45" fill="#00d1ff"/>
<rect x="608.34" y="567.69" width="16.44" height="16.45" fill="#00d6ff"/>
<rect x="623.58" y="567.69" width="16.44" height="16.45" fill="#00deff"/>
<rect x="638.81" y="567.69" width="16.44" height="16.45" fill="#00ebff"/>
<rect x="654.05" y="567.69" width="16.44" height="16.45" fill="#00fcff"/>
<rect x="669.29" y="567.69" width="16.44" height="16.45" fill="#1fffe0"/>
<rect x="684.53" y="567.69" width="16.44" height="16.45" fill="#3bffc4"/>
<rect x="699.77" y="567.69" width="16.44" height="16.45" fill="#5effa1"/>
<rect x="715.00" y="567.69" width="16.44" height="16.45" fill="#82ff7d"/>
<rect x="730.24" y="567.69" width="16.44" height="16.45" fill="#a8ff57"/>
<rect x="745.48" y="567.69" width="16.44" height="16.45" fill="#cfff30"/>
<rect x="760.72" y="567.69" width="16.44" height="16.45" fill="#f0ff0f"/>
<rect x="775.96" y="567.69" width="16.44" height="16.45" fill="#fff200"/>
<rect x="791.20" y="567.69" width="16.44" height="16.45" fill="#ffd900"/>
<rect x="806.43" y="567.69" width="16.44" height="16.45" fill="#ffbd00"/>
<rect x="821.67" y="567.69" width="16.44" height="16.45" fill="#ffa400"/>
<rect x="836.91" y="567.69" width="16.44" height="16.45" fill="#ff8b00"/>
<rect x="852.15" y="567.69" width="16.44" height="16.45" fill="#ff7700"/>
<rect x="867.39" y="567.69" width="16.44" height="16.45" fill="#ff6700"/>
<rect x="882.62" y="567.69" width="16.44" height="16.45" fill="#ff5900"/>
<rect x="897.86" y="567.69" width="16.44" height="16.45" fill="#ff4a00"/>
<rect x="591.10" y="582.95" width="18.44" height="16.45" fill="#00ccff"/>
<rect x="608.34" y="582.95" width="16.44" height="16.45" fill="#00d1ff"/>
<rect x="623.58" y="582.95" width="16.44" height="16.45" fill="#00d6ff"/>
<rect x="638.81" y="582.95" width="16.44" height="16.45" fill="#00e0ff"/>
<rect x="654.05" y="582.95" width="16.44" height="16.45" fill="#00f5ff"/>
<rect x="669.29" y="582.95" width="16.44" height="16.45" fill="#1affe5"/>
<rect x="684.53" y="582.95" width="16.44" height="16.45" fill="#33ffcc"/>
<rect x="699.77" y="582.95" width="16.44" height="16.45" fill="#5cffa3"/>
<rect x="715.00" y="582.95" width="16.44" height="16.45" fill="#7aff85"/>
<rect x="730.24" y="582.95" width="16.44" height="16.45" fill="#a3ff5c"/>
<rect x="745.48" y="582.95" width="16.44" height="16.45" fill="#c7ff38"/>
<rect x="760.72" y="582.95" width="16.44" height="16.45" fill="#ebff14"/>
<rect x="775.96" y="582.95" width="16.44" height="16.45" fill="#fffa00"/>
<rect x="791.20" y="582.95" width="16.44" height="16.45" fill="#ffe000"/>
<rect x="806.43" y="582.95" width="16.44" height="16.45" fill="#ffc200"/>
<rect x="821.67" y="582.95" width="16.44" height="16.45" fill="#ffaa00"/>
<rect x="836.91" y="582.95" width="16.44" height="16.45" fill="#ff9200"/>
<rect x="852.15" y="582.95" width="16.44" height="16.45" fill="#ff7d00"/>
<rect x="867.39" y="582.95" width="16.44" height="16.45" fill="#ff6d00"/>
<rect x="882.62" y="582.95" width="16.44" height="16.45" fill="#ff6100"/>
<rect x="897.86" y="582.95" width="16.44" height="16.45" fill="#ff5200"/>
<rect x="591.10" y="598.20" width="18.44" height="16.45" fill="#00c2ff"/>
<rect x="608.34" y="598.20" width="16.44" height="16.45" fill="#00c2ff"/>
<rect x="623.58" y="598.20" width="16.44" height="16.45" fill="#00ccff"/>
<rect x="638.81" y="598.20" width="16.44" height="16.45" fill="#00d6ff"/>
<rect x="654.05" y="598.20" width="16.44" height="16.45" fill="#00ebff"/>
<rect x="669.29" y="598.20" width="16.44" height="16.45" fill="#0ffff0"/>
<rect x="684.53" y="598.20" width="16.44" height="16.45" fill="#33ffcc"/>
<rect x="699.77" y="598.20" width="16.44" height="16.45" fill="#57ffa8"/>
<rect x="715.00" y="598.20" width="16.44" height="16.45" fill="#7aff85"/>
<rect x="730.24" y="598.20" width="16.44" height="16.45" fill="#a3ff5c"/>
<rect x="745.48" y="598.20" width="16.44" height="16.45" fill="#c7ff38"/>
<rect x="760.72" y="598.20" width="16.44" height="16.45" fill="#ebff14"/>
<rect x="775.96" y="598.20" width="16.44" height="16.45" fill="#fffc00"/>
<rect x="791.20" y="598.20" width="16.44" height="16.45" fill="#ffe300"/>
<rect x="806.43" y="598.20" width="16.44" height="16.45" fill="#ffc400"/>
<rect x="821.67" y="598.20" width="16.44" height="16.45" fill="#ffae00"/>
<rect x="836.91" y="598.20" width="16.44" height="16.45" fill="#ff9500"/>
<rect x="852.15" y="598.20" width="16.44" height="16.45" fill="#ff8400"/>
<rect x="867.39" y="598.20" width="16.44" height="16.45" fill="#ff7100"/>
<rect x="882.62" y="598.20" width="16.44" height="16.45" fill="#ff6300"/>
<rect x="897.86" y="598.20" width="16.44" height="16.45" fill="#ff5200"/>
<rect x="591.10" y="613.46" width="18.44" height="16.45" fill="#00b8ff"/>
<rect x="608.34" y="613.46" width="16.44" height="16.45" fill="#00b8ff"/>
<rect x="623.58" y="613.46" width="16.44" height="16.45" fill="#00bdff"/>
<rect x="638.81" y="613.46" width="16.44" height="16.45" fill="#00c7ff"/>
<rect x="654.05" y="613.46" width="16.44" height="16.45" fill="#00e0ff"/>
<rect x="669.29" y="613.46" width="16.44" height="16.45" fill="#00faff"/>
<rect x="684.53" y="613.46" width="16.44" height="16.45" fill="#2effd1"/>
<rect x="699.77" y="613.46" width="16.44" height="16.45" fill="#52ffad"/>
<rect x="715.00" y="613.46" width="16.44" height="16.45" fill="#75ff8a"/>
<rect x="730.24" y="613.46" width="16.44" height="16.45" fill="#9eff61"/>
<rect x="745.48" y="613.46" width="16.44" height="16.45" fill="#c2ff3d"/>
<rect x="760.72" y="613.46" width="16.44" height="16.45" fill="#e5ff1a"/>
<rect x="775.96" y="613.46" width="16.44" height="16.45" fill="#ffff00"/>
<rect x="791.20" y="613.46" width="16.44" height="16.45" fill="#ffe500"/>
<rect x="806.43" y="613.46" width="16.44" height="16.45" fill="#ffc700"/>
<rect x="821.67" y="613.46" width="16.44" height="16.45" fill="#ffb300"/>
<rect x="836.91" y="613.46" width="16.44" height="16.45" fill="#ff9900"/>
<rect x="852.15" y="613.46" width="16.44" height="16.45" fill="#ff8a00"/>
<rect x="867.39" y="613.46" width="16.44" height="16.45" fill="#ff7500"/>
<rect x="882.62" y="613.46" width="16.44" height="16.45" fill="#ff6600"/>
<rect x="897.86" y="613.46" width="16.44" height="16.45" fill="#ff5200"/>
<rect x="591.10" y="628.71" width="18.44" height="16.45" fill="#00adff"/>
<rect x="608.34" y="628.71" width="16.44" height="16.45" fill="#00adff"/>
<rect x="623.58" y="628.71" width="16.44" height="16.45" fill="#00b2ff"/>
<rect x="638.81" y="628.71" width="16.44" height="16.45" fill="#00bdff"/>
<rect x="654.05" y="628.71" width="16.44" height="16.45" fill="#00d6ff"/>
<rect x="669.29" y="628.71" width="16.44" height="16.45" fill="#00f5ff"/>
<rect x="684.53" y="628.71" width="16.44" height="16.45" fill="#1fffe0"/>
<rect x="699.77" y="628.71" width="16.44" height="16.45" fill="#4dffb2"/>
<rect x="715.00" y="628.71" width="16.44" height="16.45" fill="#70ff8f"/>
<rect x="730.24" y="628.71" width="16.44" height="16.45" fill="#99ff66"/>
<rect x="745.48" y="628.71" width="16.44" height="16.45" fill="#bdff42"/>
<rect x="760.72" y="628.71" width="16.44" height="16.45" fill="#e0ff1f"/>
<rect x="775.96" y="628.71" width="16.44" height="16.45" fill="#f7ff08"/>
<rect x="791.20" y="628.71" width="16.44" height="16.45" fill="#ffed00"/>
<rect x="806.43" y="628.71" width="16.44" height="16.45" fill="#ffcc00"/>
<rect x="821.67" y="628.71" width="16.44" height="16.45" fill="#ffb800"/>
<rect x="836.91" y="628.71" width="16.44" height="16.45" fill="#ff9e00"/>
<rect x="852.15" y="628.71" width="16.44" height="16.45" fill="#ff8f00"/>
<rect x="867.39" y="628.71" width="16.44" height="16.45" fill="#ff7a00"/>
<rect x="882.62" y="628.71" width="16.44" height="16.45" fill="#ff6b00"/>
<rect x="897.86" y="628.71" width="16.44" height="16.45" fill="#ff5900"/>
<rect x="591.10" y="643.97" width="18.44" height="16.45" fill="#009eff"/>
<rect x="608.34" y="643.97" width="16.44" height="16.45" fill="#00a3ff"/>
<rect x="623.58" y="643.97" width="16.44" height="16.45" fill="#00a8ff"/>
<rect x="638.81" y="643.97" width="16.44" height="16.45" fill="#00b8ff"/>
<rect x="654.05" y="643.97" width="16.44" height="16.45" fill="#00d1ff"/>
<rect x="669.29" y="643.97" width="16.44" height="16.45" fill="#00f0ff"/>
<rect x="684.53" y="643.97" width="16.44" height="16.45" fill="#14ffeb"/>
<rect x="699.77" y="643.97" width="16.44" height="16.45" fill="#47ffb8"/>
<rect x="715.00" y="643.97" width="16.44" height="16.45" fill="#70ff8f"/>
<rect x="730.24" y="643.97" width="16.44" height="16.45" fill="#94ff6b"/>
<rect x="745.48" y="643.97" width="16.44" height="16.45" fill="#b8ff47"/>
<rect x="760.72" y="643.97" width="16.44" height="16.45" fill="#dbff24"/>
<rect x="775.96" y="643.97" width="16.44" height="16.45" fill="#f0ff0f"/>
<rect x="791.20" y="643.97" width="16.44" height="16.45" fill="#fff500"/>
<rect x="806.43" y="643.97" width="16.44" height="16.45" fill="#ffd100"/>
<rect x="821.67" y="643.97" width="16.44" height="16.45" fill="#ffbd00"/>
<rect x="836.91" y="643.97" width="16.44" height="16.45" fill="#ffa300"/>
<rect x="852.15" y="643.97" width="16.44" height="16.45" fill="#ff9400"/>
<rect x="867.39" y="643.97" width="16.44" height="16.45" fill="#ff8000"/>
<rect x="882.62" y="643.97" width="16.44" height="16.45" fill="#ff7000"/>
<rect x="897.86" y="643.97" width="16.44" height="16.45" fill="#ff6100"/>
<rect x="591.10" y="659.22" width="18.44" height="16.45" fill="#008aff"/>
<rect x="608.34" y="659.22" width="16.44" height="16.45" fill="#0094ff"/>
<rect x="623.58" y="659.22" width="16.44" height="16.45" fill="#0099ff"/>
<rect x="638.81" y="659.22" width="16.44" height="16.45" fill="#00adff"/>
<rect x="654.05" y="659.22" width="16.44" height="16.45" fill="#00c7ff"/>
<rect x="669.29" y="659.22" width="16.44" height="16.45" fill="#00ebff"/>
<rect x="684.53" y="659.22" width="16.44" height="16.45" fill="#05fffa"/>
<rect x="699.77" y="659.22" width="16.44" height="16.45" fill="#3dffc2"/>
<rect x="715.00" y="659.22" width="16.44" height="16.45" fill="#6bff94"/>
<rect x="730.24" y="659.22" width="16.44" height="16.45" fill="#8fff70"/>
<rect x="745.48" y="659.22" width="16.44" height="16.45" fill="#b3ff4c"/>
<rect x="760.72" y="659.22" width="16.44" height="16.45" fill="#d6ff29"/>
<rect x="775.96" y="659.22" width="16.44" height="16.45" fill="#e8ff17"/>
<rect x="791.20" y="659.22" width="16.44" height="16.45" fill="#fffa00"/>
<rect x="806.43" y="659.22" width="16.44" height="16.45" fill="#ffd900"/>
<rect x="821.67" y="659.22" width="16.44" height="16.45" fill="#ffbf00"/>
<rect x="836.91" y="659.22" width="16.44" height="16.45" fill="#ffa800"/>
<rect x="852.15" y="659.22" width="16.44" height="16.45" fill="#ff9900"/>
<rect x="867.39" y="659.22" width="16.44" height="16.45" fill="#ff8500"/>
<rect x="882.62" y="659.22" width="16.44" height="16.45" fill="#ff7300"/>
<rect x="897.86" y="659.22" width="16.44" height="16.45" fill="#ff6600"/>
<rect x="591.10" y="674.48" width="18.44" height="16.45" fill="#0075ff"/>
<rect x="608.34" y="674.48" width="16.44" height="16.45" fill="#0080ff"/>
<rect x="623.58" y="674.48" width="16.44" height="16.45" fill="#008aff"/>
<rect x="638.81" y="674.48" width="16.44" height="16.45" fill="#009eff"/>
<rect x="654.05" y="674.48" width="16.44" height="16.45" fill="#00bdff"/>
<rect x="669.29" y="674.48" width="16.44" height="16.45" fill="#00e0ff"/>
<rect x="684.53" y="674.48" width="16.44" height="16.45" fill="#00ffff"/>
<rect x="699.77" y="674.48" width="16.44" height="16.45" fill="#33ffcc"/>
<rect x="715.00" y="674.48" width="16.44" height="16.45" fill="#61ff9e"/>
<rect x="730.24" y="674.48" width="16.44" height="16.45" fill="#85ff7a"/>
<rect x="745.48" y="674.48" width="16.44" height="16.45" fill="#adff52"/>
<rect x="760.72" y="674.48" width="16.44" height="16.45" fill="#d1ff2e"/>
<rect x="775.96" y="674.48" width="16.44" height="16.45" fill="#e0ff1f"/>
<rect x="791.20" y="674.48" width="16.44" height="16.45" fill="#ffff00"/>
<rect x="806.43" y="674.48" width="16.44" height="16.45" fill="#ffe000"/>
<rect x="821.67" y="674.48" width="16.44" height="16.45" fill="#ffc200"/>
<rect x="836.91" y="674.48" width="16.44" height="16.45" fill="#ffad00"/>
<rect x="852.15" y="674.48" width="16.44" height="16.45" fill="#ff9e00"/>
<rect x="867.39" y="674.48" width="16.44" height="16.45" fill="#ff8a00"/>
<rect x="882.62" y="674.48" width="16.44" height="16.45" fill="#ff7500"/>
<rect x="897.86" y="674.48" width="16.44" height="16.45" fill="#ff6b00"/>
<rect x="591.10" y="689.73" width="18.44" height="16.45" fill="#0066ff"/>
<rect x="608.34" y="689.73" width="16.44" height="16.45" fill="#006bff"/>
<rect x="623.58" y="689.73" width="16.44" height="16.45" fill="#0075ff"/>
<rect x="638.81" y="689.73" width="16.44" height="16.45" fill="#008aff"/>
<rect x="654.05" y="689.73" width="16.44" height="16.45" fill="#00a3ff"/>
<rect x="669.29" y="689.73" width="16.44" height="16.45" fill="#00d1ff"/>
<rect x="684.53" y="689.73" width="16.44" height="16.45" fill="#00faff"/>
<rect x="699.77" y="689.73" width="16.44" height="16.45" fill="#29ffd6"/>
<rect x="715.00" y="689.73" width="16.44" height="16.45" fill="#57ffa8"/>
<rect x="730.24" y="689.73" width="16.44" height="16.45" fill="#7aff85"/>
<rect x="745.48" y="689.73" width="16.44" height="16.45" fill="#a3ff5c"/>
<rect x="760.72" y="689.73" width="16.44" height="16.45" fill="#c7ff38"/>
<rect x="775.96" y="689.73" width="16.44" height="16.45" fill="#d6ff29"/>
<rect x="791.20" y="689.73" width="16.44" height="16.45" fill="#f0ff0f"/>
<rect x="806.43" y="689.73" width="16.44" height="16.45" fill="#fff000"/>
<rect x="821.67" y="689.73" width="16.44" height="16.45" fill="#ffcc00"/>
<rect x="836.91" y="689.73" width="16.44" height="16.45" fill="#ffb300"/>
<rect x="852.15" y="689.73" width="16.44" height="16.45" fill="#ff9e00"/>
<rect x="867.39" y="689.73" width="16.44" height="16.45" fill="#ff8f00"/>
<rect x="882.62" y="689.73" width="16.44" height="16.45" fill="#ff7a00"/>
<rect x="897.86" y="689.73" width="16.44" height="16.45" fill="#ff7000"/>
<rect x="591.10" y="704.99" width="18.44" height="16.45" fill="#0047ff"/>
<rect x="608.34" y="704.99" width="16.44" height="16.45" fill="#0047ff"/>
<rect x="623.58" y="704.99" width="16.44" height="16.45" fill="#004dff"/>
<rect x="638.81" y="704.99" width="16.44" height="16.45" fill="#0061ff"/>
<rect x="654.05" y="704.99" width="16.44" height="16.45" fill="#008aff"/>
<rect x="669.29" y="704.99" width="16.44" height="16.45" fill="#00ccff"/>
<rect x="684.53" y="704.99" width="16.44" height="16.45" fill="#00f0ff"/>
<rect x="699.77" y="704.99" width="16.44" height="16.45" fill="#14ffeb"/>
<rect x="715.00" y="704.99" width="16.44" height="16.45" fill="#47ffb8"/>
<rect x="730.24" y="704.99" width="16.44" height="16.45" fill="#70ff8f"/>
<rect x="745.48" y="704.99" width="16.44" height="16.45" fill="#94ff6b"/>
<rect x="760.72" y="704.99" width="16.44" height="16.45" fill="#b8ff47"/>
<rect x="775.96" y="704.99" width="16.44" height="16.45" fill="#ccff33"/>
<rect x="791.20" y="704.99" width="16.44" height="16.45" fill="#ebff14"/>
<rect x="806.43" y="704.99" width="16.44" height="16.45" fill="#fffa00"/>
<rect x="821.67" y="704.99" width="16.44" height="16.45" fill="#ffe000"/>
<rect x="836.91" y="704.99" width="16.44" height="16.45" fill="#ffcc00"/>
<rect x="852.15" y="704.99" width="16.44" height="16.45" fill="#ffb800"/>
<rect x="867.39" y="704.99" width="16.44" height="16.45" fill="#ff9400"/>
<rect x="882.62" y="704.99" width="16.44" height="16.45" fill="#ff8500"/>
<rect x="897.86" y="704.99" width="16.44" height="16.45" fill="#ff7a00"/>
<rect x="591.10" y="720.24" width="18.44" height="16.45" fill="#0019ff"/>
<rect x="608.34" y="720.24" width="16.44" height="16.45" fill="#0000ff"/>
<rect x="623.58" y="720.24" width="16.44" height="16.45" fill="#0000fa"/>
<rect x="638.81" y="720.24" width="16.44" height="16.45" fill="#002eff"/>
<rect x="654.05" y="720.24" width="16.44" height="16.45" fill="#007aff"/>
<rect x="669.29" y="720.24" width="16.44" height="16.45" fill="#00c2ff"/>
<rect x="684.53" y="720.24" width="16.44" height="16.45" fill="#00e5ff"/>
<rect x="699.77" y="720.24" width="16.44" height="16.45" fill="#05fffa"/>
<rect x="715.00" y="720.24" width="16.44" height="16.45" fill="#29ffd6"/>
<rect x="730.24" y="720.24" width="16.44" height="16.45" fill="#61ff9e"/>
<rect x="745.48" y="720.24" width="16.44" height="16.45" fill="#8aff75"/>
<rect x="760.72" y="720.24" width="16.44" height="16.45" fill="#b3ff4c"/>
<rect x="775.96" y="720.24" width="16.44" height="16.45" fill="#c7ff38"/>
<rect x="791.20" y="720.24" width="16.44" height="16.45" fill="#ebff14"/>
<rect x="806.43" y="720.24" width="16.44" height="16.45" fill="#ffeb00"/>
<rect x="821.67" y="720.24" width="16.44" height="16.45" fill="#ffc700"/>
<rect x="836.91" y="720.24" width="16.44" height="16.45" fill="#ffbd00"/>
<rect x="852.15" y="720.24" width="16.44" height="16.45" fill="#ffb300"/>
<rect x="867.39" y="720.24" width="16.44" height="16.45" fill="#ffad00"/>
<rect x="882.62" y="720.24" width="16.44" height="16.45" fill="#ffa300"/>
<rect x="897.86" y="720.24" width="16.44" height="16.45" fill="#ff8000"/>
<rect x="591.10" y="735.50" width="18.44" height="16.45" fill="#000085"/>
<rect x="608.34" y="735.50" width="16.44" height="16.45" fill="#000080"/>
<rect x="623.58" y="735.50" width="16.44" height="16.45" fill="#0000d1"/>
<rect x="638.81" y="735.50" width="16.44" height="16.45" fill="#0047ff"/>
<rect x="654.05" y="735.50" width="16.44" height="16.45" fill="#00ccff"/>
<rect x="669.29" y="735.50" width="16.44" height="16.45" fill="#00b2ff"/>
<rect x="684.53" y="735.50" width="16.44" height="16.45" fill="#00d6ff"/>
<rect x="699.77" y="735.50" width="16.44" height="16.45" fill="#00a8ff"/>
<rect x="715.00" y="735.50" width="16.44" height="16.45" fill="#00d6ff"/>
<rect x="730.24" y="735.50" width="16.44" height="16.45" fill="#00ffff"/>
<rect x="745.48" y="735.50" width="16.44" height="16.45" fill="#14ffeb"/>
<rect x="760.72" y="735.50" width="16.44" height="16.45" fill="#a3ff5c"/>
<rect x="775.96" y="735.50" width="16.44" height="16.45" fill="#c7ff38"/>
<rect x="791.20" y="735.50" width="16.44" height="16.45" fill="#ffe000"/>
<rect x="806.43" y="735.50" width="16.44" height="16.45" fill="#e00000"/>
<rect x="821.67" y="735.50" width="16.44" height="16.45" fill="#bd0000"/>
<rect x="836.91" y="735.50" width="16.44" height="16.45" fill="#800000"/>
<rect x="852.15" y="735.50" width="16.44" height="16.45" fill="#990000"/>
<rect x="867.39" y="735.50" width="16.44" height="16.45" fill="#e00000"/>
<rect x="882.62" y="735.50" width="16.44" height="16.45" fill="#ff0000"/>
<rect x="897.86" y="735.50" width="16.44" height="16.45" fill="#db0000"/>
</g>
<path d="M593.60 750.75v-11.5M633.10 750.75v-6.0M673.10 750.75v-6.0M713.10 750.75v-6.0M753.10 750.75v-11.5M793.10 750.75v-6.0M833.10 750.75v-6.0M873.10 750.75v-6.0M912.60 750.75v-11.5M593.10 430.90h11.5M593.10 470.84h6.0M593.10 510.89h6.0M593.10 550.93h6.0M593.10 590.98h11.5M593.10 631.02h6.0M593.10 671.06h6.0M593.10 711.11h6.0M593.10 750.25h11.5" stroke="#262626" stroke-width="1" fill="none" opacity="0.65"/>
<rect x="730.34" y="520.58" width="15.35" height="16.05" fill="none" stroke="#000000" stroke-width="2.65"/>
<path d="M593.40 430.40V750.45H913.10" stroke="#262626" stroke-width="0.8" fill="none" opacity="0.45"/>
<text class="t" x="753.6" y="418.0" text-anchor="middle">normalized Intercept (b)</text>
<text class="a" x="585.1" y="437.1" text-anchor="end">1000</text>
<text class="a" x="585.1" y="597.3" text-anchor="end">500</text>
<text class="a" x="585.1" y="757.5" text-anchor="end">1</text>
<text class="a" x="593.6" y="767.8" text-anchor="middle">0</text>
<text class="a" x="753.6" y="767.8" text-anchor="middle">10</text>
<text class="a" x="913.6" y="767.8" text-anchor="middle">20</text>
<text class="a" x="753.4" y="785.6" text-anchor="middle">Noise [%]</text>
<text class="a" transform="translate(537.1 590.6) rotate(-90)" text-anchor="middle">Number of Fits</text>
<rect x="987.00" y="430.65" width="33.60" height="320.10" fill="url(#jet)"/>
<path d="M987.50 430.40v320.35M987.00 445.90h5.0M987.00 462.65h5.0M987.00 479.40h5.0M987.00 496.15h5.0M987.00 512.90h9.0M987.00 529.65h5.0M987.00 546.40h5.0M987.00 563.15h5.0M987.00 579.90h5.0M987.00 596.65h9.0M987.00 613.40h5.0M987.00 630.15h5.0M987.00 646.90h5.0M987.00 663.65h5.0M987.00 680.40h9.0M987.00 697.15h5.0M987.00 713.90h5.0M987.00 730.65h5.0M987.00 747.40h5.0" stroke="#000" stroke-width="1" fill="none"/>
<text class="c" x="980.8" y="517.4" text-anchor="end">1.5</text>
<text class="c" x="980.8" y="601.1" text-anchor="end">1.0</text>
<text class="c" x="980.8" y="684.9" text-anchor="end">0.5</text>
</svg></body></html>
